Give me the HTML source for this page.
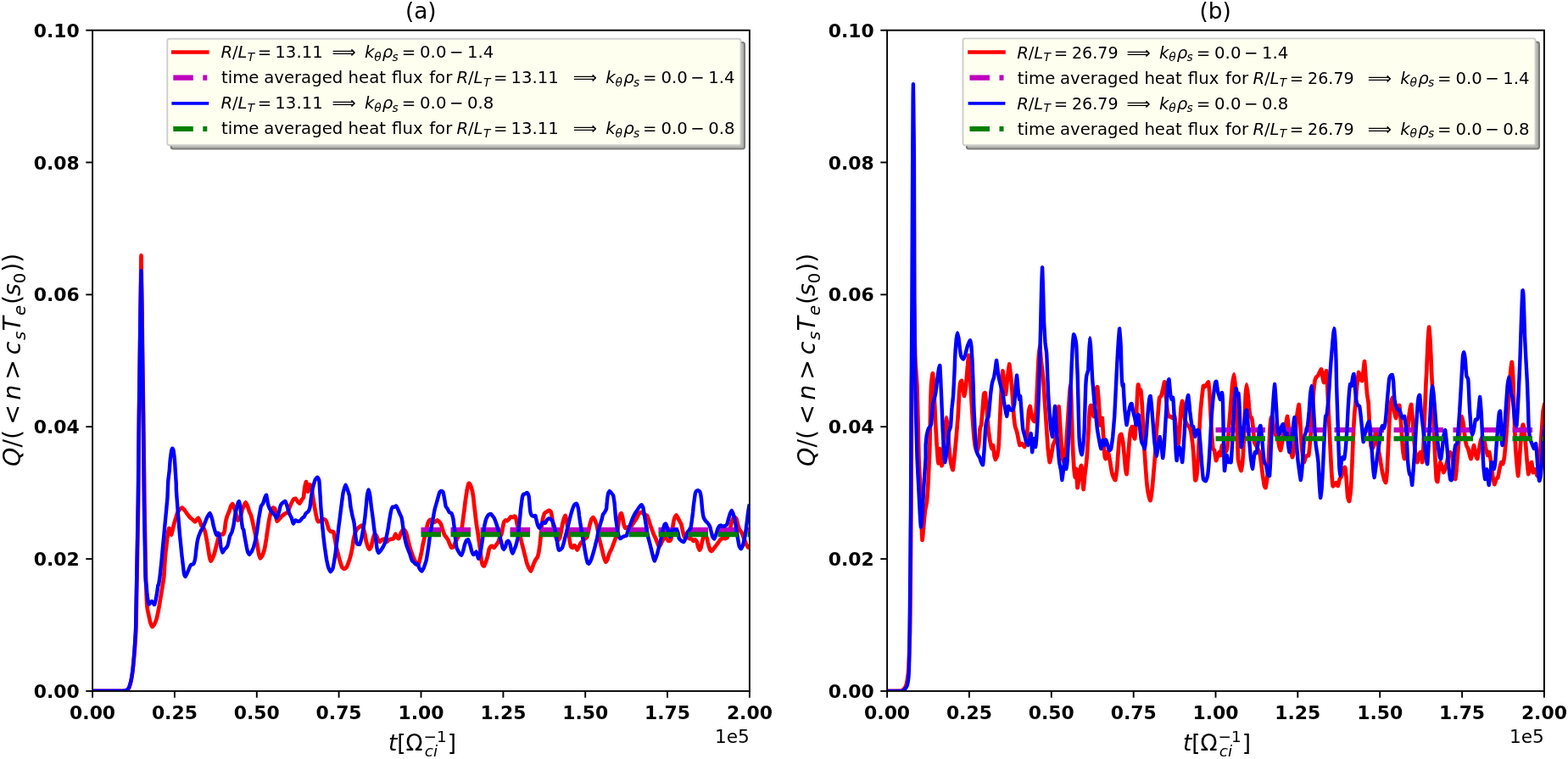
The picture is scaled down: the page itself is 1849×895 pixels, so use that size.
<!DOCTYPE html>
<html lang="en">
<head>
<meta charset="utf-8">
<title>Heat flux time traces</title>
<style>
html, body { margin: 0; padding: 0; background: #ffffff; }
body { width: 1849px; height: 895px; overflow: hidden; }
svg { display: block; font-family: "DejaVu Sans", "Liberation Sans", sans-serif; }
text { fill: #000; white-space: pre; }
</style>
</head>
<body>
<svg width="1849" height="895" viewBox="0 0 1849 895">
<rect x="0" y="0" width="1849" height="895" fill="#ffffff"/>
<g id="plot-a">
<clipPath id="clip-a"><rect x="109.1" y="35.7" width="774.8" height="779.2"/></clipPath>
<g clip-path="url(#clip-a)" fill="none" stroke-linejoin="round" stroke-linecap="butt">
<path d="M109.0 814.8C111.1 814.8 137.5 814.8 140.0 814.8C142.5 814.8 145.3 814.7 146.0 814.6C146.7 814.5 149.4 813.9 149.8 813.6C150.2 813.3 151.9 811.6 152.2 810.8C152.5 810.0 154.4 803.4 154.7 802.0C155.0 800.6 156.4 791.3 156.6 789.6C156.8 787.9 157.6 778.6 157.8 777.0C158.0 775.4 158.8 766.7 158.9 765.0C159.0 763.3 159.7 753.7 159.8 752.0C159.9 750.3 160.3 744.8 160.4 740.0C160.5 735.2 161.3 690.0 161.5 680.0C161.7 670.0 162.9 602.7 163.1 590.0C163.3 577.3 163.9 504.0 164.1 490.0C164.3 476.0 165.4 390.7 165.5 380.0C165.6 369.3 166.0 335.3 166.1 330.0C166.2 324.7 166.4 301.0 166.5 301.0C166.6 301.0 166.8 324.7 166.9 330.0C167.0 335.3 167.5 369.3 167.6 380.0C167.7 390.7 168.9 476.0 169.1 490.0C169.3 504.0 170.2 577.3 170.4 590.0C170.6 602.7 171.8 671.7 172.0 680.0C172.2 688.3 173.2 711.8 173.4 714.8C173.6 717.8 175.0 723.5 175.2 724.8C175.5 726.0 176.8 732.5 177.1 733.5C177.4 734.4 179.3 738.9 179.6 739.1C179.9 739.2 181.8 736.6 182.1 736.0C182.4 735.3 184.2 731.2 184.6 729.8C185.0 728.3 187.3 717.1 187.7 714.8C188.1 712.6 190.4 698.5 190.8 696.2C191.2 693.8 193.0 682.4 193.3 680.0C193.5 677.6 194.3 663.4 194.5 660.9C194.7 658.3 196.1 644.4 196.4 642.2C196.6 640.0 198.1 628.5 198.3 627.3C198.5 626.0 199.3 622.7 199.5 622.9C199.7 623.2 201.7 631.0 202.0 631.0C202.3 631.0 203.6 624.5 203.9 623.5C204.1 622.5 205.5 617.0 205.7 616.1C206.0 615.2 207.3 610.6 207.6 609.9C207.8 609.1 209.2 604.9 209.4 604.2C209.7 603.6 211.6 600.9 211.9 600.5C212.3 600.1 214.6 598.5 215.1 598.7C215.5 598.8 217.7 601.9 218.2 602.4C218.6 602.9 220.9 606.2 221.3 606.7C221.7 607.3 224.0 610.1 224.4 610.5C224.8 610.9 227.1 612.6 227.5 613.0C227.9 613.3 229.7 615.5 230.0 615.5C230.3 615.5 231.6 613.3 231.8 613.0C232.1 612.6 233.5 610.4 233.7 610.5C234.0 610.6 235.3 613.6 235.6 614.2C235.8 614.8 237.1 619.2 237.4 619.8C237.8 620.4 240.2 622.9 240.6 623.5C240.9 624.2 242.2 628.7 242.4 629.8C242.7 630.8 244.0 638.3 244.3 639.7C244.5 641.1 245.9 649.7 246.1 650.9C246.3 652.1 247.2 657.7 247.4 658.4C247.6 659.1 248.4 661.6 248.6 661.5C248.9 661.4 250.8 657.9 251.1 657.1C251.5 656.3 253.3 650.8 253.6 649.6C253.9 648.5 255.8 640.9 256.1 639.7C256.4 638.5 257.7 632.9 258.0 632.2C258.3 631.6 260.1 629.9 260.4 629.8C260.8 629.6 262.6 630.6 262.9 630.4C263.2 630.1 264.6 627.0 264.8 626.0C265.0 625.1 265.8 617.2 266.0 616.1C266.2 614.9 267.6 609.5 267.9 608.6C268.2 607.7 270.1 603.2 270.4 602.4C270.7 601.6 272.0 597.3 272.3 596.8C272.5 596.3 273.8 594.1 274.1 594.3C274.4 594.5 276.3 598.9 276.6 599.9C277.0 600.9 278.9 608.9 279.1 609.9C279.3 610.8 280.1 613.5 280.4 613.6C280.6 613.7 282.5 611.7 282.8 611.1C283.1 610.5 284.5 605.7 284.7 604.9C284.9 604.1 286.2 599.5 286.6 598.7C286.9 597.8 289.3 592.5 289.7 592.4C290.1 592.4 291.9 596.7 292.2 597.4C292.5 598.2 293.8 603.0 294.0 603.6C294.3 604.3 295.7 606.6 295.9 607.4C296.1 608.1 297.5 613.8 297.8 614.8C298.0 615.9 299.4 622.4 299.6 623.5C299.9 624.7 301.2 631.0 301.5 632.2C301.7 633.5 303.1 640.8 303.4 642.2C303.6 643.6 305.0 652.3 305.2 653.4C305.5 654.5 306.8 658.3 307.1 658.4C307.4 658.4 309.3 655.4 309.6 654.6C309.9 653.9 311.7 648.5 312.0 647.2C312.3 645.9 313.8 636.8 314.1 635.1C314.3 633.4 315.8 623.3 316.1 621.5C316.3 619.8 317.8 610.7 318.1 609.4C318.4 608.0 319.9 602.0 320.1 601.3C320.4 600.5 321.9 598.7 322.2 598.6C322.4 598.5 324.0 599.2 324.2 599.9C324.4 600.6 325.4 608.4 325.6 609.4C325.7 610.4 326.6 614.7 326.9 614.8C327.2 614.9 329.9 611.2 330.3 610.7C330.7 610.3 332.6 608.3 333.0 608.0C333.4 607.7 335.3 606.3 335.7 606.0C336.1 605.7 338.6 604.6 339.1 604.0C339.5 603.3 342.0 596.9 342.4 595.9C342.9 594.9 345.4 589.6 345.8 589.1C346.2 588.6 348.2 587.6 348.5 587.8C348.9 587.9 350.9 591.4 351.2 591.8C351.6 592.2 353.0 594.0 353.3 593.8C353.6 593.7 355.7 589.6 356.0 589.1C356.3 588.6 357.8 587.4 358.0 586.4C358.2 585.4 359.1 575.4 359.4 574.2C359.6 573.0 360.9 567.8 361.1 568.1C361.4 568.5 362.8 579.4 363.0 579.6C363.2 579.9 364.5 572.0 364.8 571.5C365.0 571.1 366.5 572.0 366.8 572.9C367.1 573.8 368.6 583.4 368.8 585.0C369.1 586.7 370.6 595.7 370.8 597.2C371.1 598.7 372.6 606.9 372.9 608.0C373.1 609.2 374.6 614.3 374.9 614.8C375.2 615.2 377.2 615.0 377.6 614.8C378.0 614.6 379.9 612.2 380.3 612.1C380.7 611.9 383.3 612.4 383.7 612.8C384.1 613.1 385.5 616.7 385.7 617.5C386.0 618.3 387.4 623.6 387.7 624.2C388.1 624.9 390.1 626.8 390.4 627.0C390.8 627.1 392.9 626.5 393.1 627.0C393.4 627.4 394.3 632.5 394.5 633.7C394.7 634.9 396.3 643.3 396.5 644.5C396.8 645.8 398.3 651.6 398.6 652.6C398.8 653.7 400.3 659.7 400.6 660.8C400.9 661.8 402.9 668.2 403.3 668.9C403.7 669.5 405.6 670.9 406.0 670.9C406.4 670.9 408.3 669.5 408.7 668.9C409.1 668.3 411.1 663.0 411.4 662.1C411.7 661.2 413.2 656.4 413.4 655.4C413.7 654.3 415.2 647.2 415.5 645.9C415.7 644.6 416.6 637.6 416.8 636.4C417.0 635.2 418.6 629.1 418.8 628.3C419.1 627.5 420.6 624.7 420.9 624.2C421.2 623.8 423.2 621.9 423.6 621.5C423.9 621.2 426.0 619.4 426.3 619.5C426.6 619.6 428.0 622.2 428.3 622.9C428.6 623.6 430.1 628.7 430.3 629.7C430.6 630.7 431.5 636.8 431.7 637.8C431.9 638.8 433.5 643.9 433.7 644.5C434.0 645.2 435.5 647.9 435.7 647.9C436.0 647.9 437.5 645.4 437.8 644.5C438.0 643.7 439.5 636.1 439.8 635.1C440.1 634.1 441.6 629.9 441.8 629.7C442.1 629.4 443.6 631.2 443.9 631.7C444.1 632.1 445.6 635.9 445.9 636.4C446.1 636.9 447.6 639.1 447.9 639.1C448.2 639.1 450.3 636.6 450.6 636.4C451.0 636.2 453.0 635.6 453.3 635.7C453.7 635.9 455.7 639.1 456.0 639.1C456.4 639.2 458.4 636.6 458.7 636.4C459.1 636.2 461.1 635.8 461.4 635.7C461.8 635.6 463.8 635.5 464.1 635.1C464.5 634.7 465.9 629.8 466.2 629.7C466.4 629.6 467.9 633.4 468.2 633.7C468.5 634.1 469.9 635.3 470.2 635.1C470.5 634.8 472.0 630.3 472.2 629.7C472.5 629.0 474.0 625.9 474.3 625.6C474.6 625.3 476.7 624.7 477.0 624.9C477.3 625.1 478.7 627.5 479.0 628.3C479.3 629.1 480.8 635.3 481.0 636.4C481.3 637.5 482.8 643.4 483.1 644.5C483.4 645.6 485.4 651.7 485.8 652.6C486.1 653.6 488.1 658.6 488.5 659.4C488.8 660.2 490.9 664.4 491.2 664.8C491.5 665.3 492.9 666.5 493.2 666.2C493.5 665.8 495.0 660.5 495.2 659.4C495.5 658.3 497.0 651.3 497.3 649.9C497.5 648.6 499.0 640.4 499.3 639.1C499.6 637.9 501.0 632.2 501.3 631.0C501.6 629.8 503.1 622.6 503.4 621.5C503.6 620.5 505.1 615.4 505.4 614.8C505.6 614.2 507.1 612.8 507.4 612.8C507.7 612.8 509.7 614.6 510.1 614.8C510.5 615.0 512.4 615.6 512.8 615.5C513.2 615.4 515.2 613.4 515.5 613.4C515.9 613.4 517.9 615.1 518.2 615.5C518.5 615.8 520.0 618.2 520.2 618.8C520.5 619.5 522.0 624.8 522.3 625.6C522.6 626.4 524.0 630.5 524.3 631.0C524.6 631.6 526.1 633.4 526.3 633.7C526.6 634.1 528.1 635.9 528.4 636.4C528.6 637.0 530.1 641.2 530.4 641.8C530.7 642.5 532.1 645.7 532.4 645.9C532.7 646.1 534.8 645.0 535.1 644.5C535.4 644.1 536.8 639.8 537.1 639.1C537.5 638.4 539.5 634.4 539.9 633.7C540.2 633.0 542.2 629.0 542.6 628.3C542.9 627.6 544.3 624.3 544.6 622.9C544.9 621.5 546.3 610.1 546.6 608.0C546.9 606.0 548.4 593.8 548.6 591.8C548.9 589.8 550.4 579.7 550.7 578.3C550.9 576.8 552.5 570.7 552.7 570.2C552.9 569.6 553.3 569.9 553.5 570.2C553.7 570.4 555.3 573.4 555.5 574.2C555.8 575.0 557.4 581.1 557.6 582.3C557.8 583.6 558.8 591.6 558.9 593.1C559.1 594.7 560.1 603.8 560.3 605.3C560.5 606.9 561.4 614.7 561.6 616.1C561.8 617.6 563.0 625.4 563.3 627.0C563.5 628.5 564.8 637.6 565.0 639.1C565.2 640.7 566.2 648.5 566.4 649.9C566.6 651.4 567.5 659.7 567.7 660.8C567.9 661.8 568.9 665.7 569.1 666.2C569.3 666.6 570.6 667.8 570.8 667.5C571.1 667.2 572.8 662.9 573.1 662.1C573.4 661.3 574.9 656.3 575.1 655.4C575.4 654.4 576.6 648.0 576.8 647.2C577.0 646.5 578.3 644.8 578.5 644.5C578.8 644.3 580.3 643.8 580.6 643.9C580.8 644.0 582.3 645.9 582.6 645.9C582.9 645.8 584.3 643.5 584.6 643.2C584.9 642.8 586.4 640.8 586.6 640.5C586.9 640.1 587.8 638.2 588.0 637.8C588.2 637.3 589.1 634.3 589.4 633.7C589.6 633.2 591.2 630.4 591.4 629.7C591.6 628.9 592.6 623.8 592.7 622.9C592.9 622.0 593.9 616.8 594.1 616.1C594.3 615.5 595.8 613.6 596.1 613.4C596.4 613.3 597.9 614.2 598.1 614.1C598.4 614.0 599.9 612.4 600.2 612.1C600.4 611.8 601.9 609.5 602.2 609.4C602.5 609.2 604.6 610.1 604.9 610.1C605.2 610.0 606.7 608.7 606.9 608.7C607.2 608.7 608.1 610.1 608.3 610.7C608.5 611.3 609.5 616.7 609.6 617.5C609.8 618.3 610.8 622.0 611.0 622.9C611.2 623.8 612.7 629.9 613.0 631.0C613.3 632.1 614.8 638.0 615.0 639.1C615.3 640.2 616.8 646.2 617.1 647.2C617.3 648.3 618.8 654.3 619.1 655.4C619.4 656.4 620.9 662.6 621.1 663.5C621.4 664.4 622.8 668.2 623.1 668.9C623.5 669.5 625.5 673.6 625.9 673.6C626.2 673.6 627.6 669.5 627.9 668.9C628.2 668.2 629.6 664.1 629.9 663.5C630.2 662.8 631.7 659.9 631.9 659.4C632.2 659.0 633.7 657.2 634.0 656.7C634.2 656.2 635.1 652.3 635.3 651.3C635.5 650.3 636.5 643.1 636.7 641.8C636.8 640.6 637.5 633.7 637.6 632.4C637.8 631.0 638.5 622.9 638.7 621.5C638.9 620.2 639.8 613.2 640.0 612.1C640.3 611.0 641.8 605.9 642.1 605.3C642.4 604.7 644.4 603.5 644.8 603.3C645.2 603.1 647.2 601.9 647.5 601.9C647.8 601.9 649.3 602.8 649.5 603.3C649.7 603.8 650.7 608.4 650.9 609.4C651.0 610.3 652.0 616.4 652.2 617.5C652.4 618.6 653.3 624.5 653.6 625.6C653.8 626.7 655.3 632.9 655.6 633.7C655.9 634.5 657.3 637.8 657.6 637.8C657.9 637.8 660.0 634.7 660.3 633.7C660.7 632.7 662.1 624.3 662.4 622.9C662.6 621.5 664.1 614.4 664.4 613.4C664.7 612.4 666.2 608.1 666.4 608.0C666.6 607.9 667.6 611.3 667.8 612.1C667.9 612.9 668.9 619.0 669.1 620.2C669.3 621.4 670.3 628.5 670.5 629.7C670.7 630.8 671.7 636.8 671.8 637.8C672.0 638.8 673.0 644.0 673.2 644.5C673.4 645.1 674.9 646.0 675.2 645.9C675.5 645.8 677.0 643.3 677.2 643.2C677.5 643.1 678.4 644.2 678.6 644.5C678.8 644.9 680.4 648.6 680.6 648.6C680.9 648.6 682.4 645.1 682.6 644.5C682.9 644.0 684.4 640.9 684.7 640.5C685.0 640.0 687.0 638.1 687.4 637.8C687.7 637.4 689.8 635.3 690.1 635.1C690.4 634.8 691.9 634.2 692.1 633.7C692.3 633.3 693.2 629.3 693.5 628.3C693.7 627.3 695.2 619.9 695.5 618.8C695.8 617.8 697.2 612.7 697.5 612.1C697.8 611.5 699.3 610.0 699.5 610.1C699.8 610.2 701.3 612.9 701.6 613.4C701.8 614.0 703.4 618.0 703.6 618.8C703.8 619.7 704.8 624.6 705.0 625.6C705.1 626.6 706.1 632.6 706.3 633.7C706.5 634.8 708.1 640.7 708.3 641.8C708.6 642.9 710.1 648.9 710.4 649.9C710.6 651.0 712.1 657.2 712.4 658.0C712.7 658.9 714.1 662.7 714.4 662.8C714.7 662.9 716.2 660.1 716.5 659.4C716.7 658.7 718.2 653.5 718.5 652.6C718.8 651.8 720.9 648.0 721.2 647.2C721.5 646.5 722.9 642.6 723.2 641.8C723.5 641.1 725.0 637.1 725.2 636.4C725.5 635.7 727.0 631.9 727.3 631.0C727.5 630.1 728.4 624.2 728.6 622.9C728.8 621.6 729.8 613.2 730.0 612.1C730.1 611.0 731.1 607.1 731.3 606.7C731.5 606.2 732.5 605.1 732.7 605.3C732.8 605.5 733.8 608.6 734.0 609.4C734.2 610.2 735.2 616.6 735.4 617.5C735.6 618.4 737.1 622.6 737.4 622.9C737.7 623.2 739.1 621.5 739.4 621.5C739.8 621.5 742.4 623.1 742.8 622.9C743.2 622.7 745.2 619.4 745.5 618.8C745.9 618.3 747.9 615.3 748.2 614.8C748.6 614.2 750.6 611.4 750.9 610.7C751.3 610.1 753.3 605.8 753.6 605.3C754.0 604.9 755.9 603.9 756.3 604.0C756.8 604.1 759.9 606.4 760.4 606.7C760.8 606.9 762.8 607.6 763.1 608.0C763.4 608.5 764.8 612.6 765.1 613.4C765.4 614.3 766.9 619.4 767.1 620.2C767.4 621.0 768.9 624.9 769.2 625.6C769.5 626.3 770.9 630.4 771.2 631.0C771.5 631.6 773.0 634.4 773.2 635.1C773.5 635.7 775.0 639.8 775.3 640.5C775.5 641.1 777.0 644.4 777.3 644.5C777.6 644.6 778.9 642.4 779.2 641.8C779.5 641.3 781.6 637.0 781.9 636.4C782.2 635.9 783.7 633.8 783.9 633.7C784.2 633.6 785.7 634.8 786.0 635.1C786.2 635.3 787.7 637.6 788.0 637.8C788.3 637.9 789.8 637.9 790.0 637.8C790.3 637.6 791.2 635.9 791.4 635.1C791.6 634.3 792.6 626.9 792.7 625.6C792.9 624.3 793.9 617.1 794.1 616.1C794.3 615.1 795.2 611.3 795.4 610.7C795.7 610.1 797.2 607.4 797.5 607.4C797.7 607.4 799.2 610.2 799.5 610.7C799.8 611.2 801.2 614.2 801.5 614.8C801.8 615.3 803.3 618.1 803.5 618.8C803.8 619.6 804.7 624.8 804.9 625.6C805.1 626.4 806.1 630.5 806.2 631.0C806.4 631.6 807.3 633.5 807.6 633.7C807.9 633.9 809.9 633.6 810.3 633.7C810.7 633.8 812.6 634.9 813.0 635.1C813.4 635.2 815.4 635.6 815.7 635.7C816.0 635.9 817.5 637.7 817.7 637.8C818.0 637.8 819.5 636.3 819.8 636.4C820.0 636.5 821.6 638.6 821.8 639.1C822.0 639.7 822.9 643.9 823.1 644.5C823.4 645.2 824.7 648.5 824.9 648.6C825.1 648.7 826.3 646.5 826.5 645.9C826.7 645.3 827.7 639.9 827.9 639.1C828.1 638.3 829.0 634.3 829.2 633.7C829.5 633.2 831.0 631.0 831.3 631.0C831.5 631.0 833.1 633.2 833.3 633.7C833.5 634.3 834.5 638.4 834.6 639.1C834.8 639.8 835.8 643.9 836.0 644.5C836.2 645.2 837.1 648.2 837.4 648.6C837.6 649.0 839.1 650.0 839.4 649.9C839.7 649.9 841.1 647.6 841.4 647.2C841.7 646.9 843.2 644.9 843.4 644.5C843.7 644.2 845.2 642.2 845.5 641.8C845.7 641.5 847.2 639.5 847.5 639.1C847.8 638.8 849.2 636.7 849.5 636.4C849.8 636.1 851.3 635.2 851.5 635.1C851.8 634.9 853.3 634.4 853.6 634.4C853.8 634.4 855.3 635.1 855.6 635.1C855.9 635.0 857.3 634.4 857.6 633.7C857.9 633.1 860.0 626.9 860.3 625.6C860.7 624.3 862.7 615.9 863.0 614.8C863.4 613.7 865.4 609.6 865.7 609.4C866.1 609.2 868.2 611.5 868.5 612.1C868.7 612.6 869.6 616.7 869.8 617.5C870.0 618.3 871.6 623.6 871.8 624.2C872.1 624.9 873.6 626.5 873.9 627.0C874.1 627.4 875.6 630.4 875.9 631.0C876.1 631.6 877.6 635.7 877.9 636.4C878.2 637.1 879.7 641.2 879.9 641.8C880.2 642.4 881.7 644.9 882.0 645.2C882.2 645.5 883.6 646.5 883.7 646.6" stroke="#ff0000" stroke-width="4.7"/>
<line x1="496.5" y1="624.9" x2="883.9" y2="624.9" stroke="#bf00bf" stroke-width="6.1" stroke-dasharray="23.5 11.5"/>
<path d="M109.0 814.8C111.1 814.8 137.5 814.8 140.0 814.8C142.5 814.8 145.3 814.7 146.0 814.6C146.7 814.5 149.4 813.9 149.8 813.6C150.2 813.3 151.9 811.6 152.2 810.8C152.5 810.0 154.4 803.4 154.7 802.0C155.0 800.6 156.4 791.3 156.6 789.6C156.8 787.9 157.7 778.6 157.8 777.0C157.9 775.4 158.6 766.7 158.7 765.0C158.8 763.3 159.4 753.7 159.5 752.0C159.6 750.3 160.0 744.8 160.1 740.0C160.2 735.2 161.0 690.0 161.2 680.0C161.4 670.0 162.6 602.7 162.8 590.0C163.0 577.3 163.6 504.0 163.8 490.0C164.0 476.0 165.2 390.0 165.3 380.0C165.4 370.0 165.9 344.0 166.0 340.0C166.1 336.0 166.4 319.3 166.5 319.3C166.6 319.3 166.9 336.0 167.0 340.0C167.1 344.0 167.4 370.0 167.5 380.0C167.6 390.0 168.7 476.0 168.9 490.0C169.1 504.0 169.6 577.3 169.8 590.0C170.0 602.7 171.3 673.2 171.5 680.0C171.7 686.8 172.6 690.8 172.8 692.4C172.9 694.1 173.8 703.5 174.0 704.9C174.2 706.2 175.4 712.2 175.6 712.6C175.8 713.0 177.1 710.7 177.4 710.5C177.6 710.2 178.8 708.8 179.0 708.9C179.2 708.9 180.4 710.8 180.6 711.1C180.8 711.4 181.9 713.2 182.1 713.0C182.3 712.7 183.4 708.3 183.6 707.4C183.8 706.4 185.0 699.8 185.2 698.7C185.4 697.5 186.3 690.6 186.4 690.0C186.6 689.3 186.9 690.1 187.1 689.5C187.2 688.8 188.4 681.2 188.6 679.5C188.8 677.8 189.9 666.9 190.2 664.6C190.4 662.3 191.8 647.3 192.0 644.7C192.3 642.0 193.7 627.4 193.9 624.8C194.2 622.1 195.5 607.4 195.8 604.9C196.0 602.4 197.2 590.0 197.4 587.5C197.6 584.9 198.1 569.2 198.3 567.1C198.4 564.9 199.6 556.5 199.8 554.6C199.9 552.8 200.8 541.3 201.0 539.7C201.2 538.1 202.1 531.7 202.2 531.0C202.4 530.3 203.1 528.8 203.2 528.8C203.4 528.8 204.3 530.3 204.5 531.0C204.6 531.7 205.6 538.1 205.7 539.7C205.9 541.3 206.6 552.6 206.7 554.6C206.9 556.6 207.6 567.9 207.7 569.5C207.8 571.2 207.8 578.1 208.0 580.0C208.1 581.9 209.2 595.3 209.4 598.7C209.7 602.0 211.6 626.0 211.9 629.8C212.3 633.5 214.1 651.6 214.4 654.6C214.8 657.7 216.7 674.1 216.9 675.8C217.2 677.5 218.1 680.2 218.4 680.1C218.7 680.0 220.9 675.4 221.3 674.5C221.7 673.7 224.1 667.6 224.4 667.1C224.7 666.5 225.4 665.9 225.6 665.8C225.9 665.7 227.8 665.6 228.1 665.2C228.4 664.8 229.8 660.6 230.0 659.6C230.2 658.6 231.1 651.0 231.2 649.6C231.4 648.3 232.3 640.9 232.5 639.7C232.7 638.5 234.0 633.2 234.3 632.2C234.6 631.3 236.5 626.7 236.8 626.0C237.2 625.4 239.0 623.0 239.3 622.3C239.6 621.6 241.5 616.9 241.8 616.1C242.1 615.2 243.9 610.6 244.3 609.9C244.7 609.1 247.0 604.8 247.4 604.9C247.8 605.0 249.6 610.1 249.9 611.1C250.2 612.1 251.5 618.6 251.7 619.8C252.0 621.0 254.0 627.8 254.2 628.5C254.5 629.3 255.3 631.0 255.5 631.0C255.7 631.0 257.1 628.3 257.3 628.5C257.6 628.7 259.0 632.4 259.2 633.5C259.4 634.6 260.2 643.5 260.4 644.7C260.7 645.9 262.0 651.3 262.3 651.5C262.6 651.7 264.5 648.2 264.8 647.8C265.1 647.4 267.0 645.8 267.3 645.3C267.6 644.8 268.9 641.8 269.1 641.0C269.4 640.1 270.7 633.2 271.0 632.2C271.3 631.3 273.2 628.1 273.5 627.3C273.8 626.4 275.1 621.1 275.4 619.8C275.6 618.5 277.0 608.8 277.2 607.4C277.5 606.0 278.9 599.7 279.1 598.7C279.3 597.7 280.8 592.9 281.0 592.4C281.2 591.9 281.7 590.8 281.8 591.2C282.0 591.6 283.3 597.2 283.5 598.7C283.7 600.2 284.5 612.0 284.7 613.6C284.9 615.2 285.8 621.5 285.9 622.3C286.1 623.0 287.0 624.1 287.2 624.8C287.4 625.4 288.2 631.1 288.4 632.2C288.6 633.4 290.1 640.9 290.3 642.2C290.5 643.4 291.9 650.1 292.2 650.9C292.4 651.7 293.7 654.1 294.0 654.0C294.4 653.9 296.7 650.5 297.1 649.6C297.6 648.8 299.9 642.4 300.2 641.0C300.6 639.5 302.4 630.5 302.7 628.5C303.1 626.5 304.9 613.2 305.2 611.1C305.6 609.0 307.4 598.6 307.7 597.4C308.0 596.2 309.9 594.3 310.2 593.7C310.5 593.0 311.8 588.1 312.1 587.5C312.3 586.8 313.8 583.2 314.1 583.7C314.3 584.2 315.8 593.4 316.1 594.5C316.3 595.6 317.8 599.3 318.1 599.9C318.4 600.5 320.5 603.5 320.8 604.0C321.2 604.4 323.2 606.2 323.5 606.7C323.9 607.1 325.9 610.9 326.2 610.7C326.6 610.6 328.6 605.0 328.9 604.0C329.2 603.0 330.6 596.6 331.0 595.9C331.3 595.1 333.3 592.8 333.7 592.5C334.0 592.2 336.0 590.7 336.4 591.1C336.7 591.5 338.8 597.6 339.1 598.6C339.4 599.5 340.8 604.5 341.1 605.3C341.4 606.1 343.5 609.9 343.8 610.7C344.1 611.5 345.5 617.3 345.8 617.5C346.1 617.7 348.2 613.6 348.5 613.4C348.9 613.3 350.9 614.7 351.2 614.8C351.6 614.8 353.6 614.4 353.9 614.1C354.3 613.8 356.3 611.0 356.6 610.7C357.0 610.4 358.4 609.7 358.7 609.4C358.9 609.0 360.4 605.7 360.7 605.3C361.0 604.9 363.1 603.7 363.4 603.3C363.7 602.8 365.2 599.6 365.4 598.6C365.7 597.5 366.6 589.3 366.8 587.8C367.0 586.2 368.5 577.0 368.8 575.6C369.1 574.1 371.2 567.0 371.5 566.1C371.9 565.3 373.9 562.7 374.2 562.7C374.5 562.7 376.1 565.1 376.2 566.1C376.4 567.1 377.1 576.6 377.2 578.3C377.3 580.0 377.9 590.0 378.0 591.8C378.1 593.6 378.8 603.5 379.0 605.3C379.1 607.1 379.9 617.0 380.0 618.8C380.2 620.6 381.2 630.6 381.4 632.4C381.6 634.2 382.8 644.1 383.0 645.9C383.3 647.7 384.8 657.9 385.0 659.4C385.3 660.9 386.8 667.9 387.1 668.9C387.4 669.9 389.4 674.2 389.8 674.3C390.1 674.4 392.2 671.2 392.5 670.2C392.8 669.2 394.2 661.1 394.5 659.4C394.8 657.7 396.3 646.6 396.5 644.5C396.8 642.5 398.3 630.5 398.6 628.3C398.8 626.1 400.3 614.2 400.6 612.1C400.9 609.9 402.3 597.9 402.6 595.9C402.9 593.8 404.3 582.6 404.6 581.0C405.0 579.4 407.0 572.1 407.4 571.9C407.7 571.7 409.7 577.4 410.1 578.3C410.4 579.2 411.9 583.8 412.1 585.0C412.3 586.3 413.2 595.7 413.4 597.2C413.7 598.7 415.2 606.8 415.5 608.0C415.7 609.3 417.3 614.8 417.5 616.1C417.7 617.5 418.7 626.8 418.8 628.3C419.0 629.8 420.0 638.2 420.2 639.1C420.4 640.0 421.3 641.6 421.6 641.8C421.8 642.0 423.9 642.3 424.2 641.8C424.6 641.4 426.0 636.2 426.3 635.1C426.6 633.9 428.0 625.9 428.3 624.2C428.6 622.6 430.1 612.5 430.3 610.7C430.6 608.9 431.5 599.0 431.7 597.2C431.9 595.4 432.8 585.0 433.0 583.7C433.2 582.4 434.4 577.5 434.7 577.6C434.9 577.7 436.2 583.7 436.4 585.0C436.6 586.3 437.6 595.6 437.8 597.2C438.0 598.8 439.3 607.7 439.5 609.4C439.8 611.1 440.9 621.1 441.1 622.9C441.4 624.7 442.9 634.7 443.2 636.4C443.4 638.1 444.7 647.6 444.9 648.6C445.2 649.6 446.3 652.0 446.6 652.0C446.8 652.0 448.9 649.1 449.3 648.6C449.6 648.1 451.6 645.3 452.0 644.5C452.3 643.8 454.4 638.9 454.7 637.8C455.0 636.7 456.4 629.8 456.7 628.3C457.0 626.9 458.5 617.8 458.7 616.1C459.0 614.5 460.5 605.2 460.8 604.0C461.0 602.8 462.5 598.3 462.8 597.9C463.1 597.5 464.5 598.0 464.8 597.9C465.1 597.8 466.8 596.3 467.1 596.5C467.4 596.8 469.3 600.6 469.6 601.3C469.8 601.9 471.3 605.4 471.6 606.0C471.8 606.6 473.4 609.9 473.6 610.7C473.8 611.6 474.8 617.6 474.9 618.8C475.1 620.1 476.1 628.3 476.3 629.7C476.5 631.0 478.1 638.0 478.3 639.1C478.6 640.2 480.0 645.0 480.4 645.9C480.7 646.8 482.7 651.7 483.1 652.6C483.4 653.6 485.4 660.0 485.8 660.8C486.1 661.5 488.2 663.1 488.5 663.5C488.8 663.8 490.2 665.4 490.5 665.5C490.8 665.6 492.3 664.5 492.5 664.8C492.8 665.1 494.2 669.6 494.6 670.2C494.9 670.8 496.9 673.7 497.3 673.6C497.6 673.5 499.6 669.7 500.0 668.9C500.3 668.0 502.4 662.1 502.7 660.8C503.0 659.4 504.4 650.4 504.7 648.6C505.0 646.8 506.5 635.5 506.7 633.7C507.0 631.9 508.5 623.1 508.8 621.5C509.0 620.0 510.5 612.2 510.8 610.7C511.0 609.3 512.5 601.3 512.8 599.9C513.1 598.6 515.2 591.7 515.5 590.5C515.9 589.2 517.9 581.8 518.2 581.0C518.5 580.2 520.0 579.0 520.2 579.0C520.5 578.9 522.3 579.6 522.5 580.3C522.8 581.0 524.1 588.0 524.3 589.1C524.5 590.2 525.4 596.5 525.7 597.2C525.9 597.9 527.4 599.5 527.7 599.9C528.0 600.4 529.4 603.6 529.7 604.0C530.0 604.3 532.1 604.8 532.4 605.3C532.7 605.9 534.2 610.9 534.5 612.1C534.7 613.3 535.6 621.3 535.8 622.9C536.0 624.5 537.0 634.9 537.1 636.4C537.3 638.0 538.2 644.8 538.5 645.9C538.8 647.0 541.7 652.1 542.0 652.6C542.4 653.2 543.8 654.9 544.1 654.7C544.3 654.5 545.8 650.8 546.1 649.9C546.4 649.1 547.8 642.7 548.1 641.8C548.4 641.0 549.9 637.5 550.1 637.1C550.4 636.7 551.9 636.1 552.2 636.4C552.4 636.7 553.9 640.9 554.2 641.8C554.5 642.7 556.0 649.1 556.2 649.9C556.5 650.8 558.0 653.8 558.2 654.0C558.5 654.2 560.1 652.9 560.3 652.6C560.5 652.4 561.4 650.4 561.6 650.6C561.8 650.8 562.8 654.8 563.0 655.4C563.2 655.9 564.1 658.9 564.3 658.7C564.6 658.6 566.1 653.6 566.4 652.6C566.6 651.7 567.5 645.7 567.7 644.5C567.9 643.4 568.9 636.3 569.1 635.1C569.2 633.8 570.2 626.8 570.4 625.6C570.6 624.4 571.5 618.5 571.8 617.5C572.0 616.5 573.5 611.4 573.8 610.7C574.1 610.1 575.5 607.7 575.8 607.4C576.1 607.0 578.2 605.9 578.5 606.0C578.9 606.1 580.9 608.3 581.2 608.7C581.6 609.1 583.0 611.5 583.3 612.1C583.5 612.7 585.0 616.7 585.3 617.5C585.6 618.3 587.0 623.3 587.3 624.2C587.6 625.2 589.1 631.3 589.4 632.4C589.6 633.4 591.2 639.6 591.4 640.5C591.6 641.4 592.6 645.4 592.7 645.9C592.9 646.4 593.9 648.0 594.1 647.9C594.3 647.8 595.9 645.1 596.1 644.5C596.3 643.9 597.2 639.6 597.5 639.1C597.7 638.7 599.2 637.6 599.5 637.8C599.8 638.0 601.3 641.1 601.5 641.8C601.7 642.6 602.7 647.9 602.9 648.6C603.1 649.3 604.4 652.6 604.6 652.6C604.9 652.6 606.0 649.2 606.2 648.6C606.5 648.0 608.0 644.1 608.3 643.2C608.6 642.3 610.1 636.3 610.3 635.1C610.5 633.8 611.5 625.8 611.7 624.2C611.8 622.7 612.8 613.7 613.0 612.1C613.2 610.5 613.9 601.4 614.1 599.9C614.3 598.4 615.3 590.2 615.5 589.1C615.6 588.0 616.8 583.5 617.1 583.0C617.3 582.6 618.8 582.5 619.1 582.3C619.4 582.2 621.5 580.8 621.8 581.0C622.1 581.2 623.4 584.1 623.6 585.0C623.7 585.9 624.4 593.2 624.5 594.5C624.6 595.8 625.3 603.1 625.5 604.0C625.6 604.9 627.0 607.7 627.2 608.0C627.5 608.3 629.0 608.7 629.2 608.7C629.5 608.7 631.0 607.7 631.3 608.0C631.5 608.3 632.4 612.7 632.6 613.4C632.8 614.2 633.7 618.2 634.0 618.8C634.2 619.5 635.7 622.9 636.0 622.9C636.3 622.9 637.8 619.3 638.0 618.8C638.3 618.4 639.7 616.3 640.0 616.1C640.4 616.0 642.4 617.0 642.8 616.8C643.1 616.6 644.5 613.8 644.8 613.4C645.1 613.1 646.5 611.5 646.8 611.4C647.1 611.3 649.2 611.9 649.5 612.1C649.8 612.3 651.3 614.2 651.5 614.8C651.8 615.3 653.3 619.4 653.6 620.2C653.8 621.0 654.7 626.0 654.9 627.0C655.1 628.0 656.1 634.0 656.3 635.1C656.5 636.2 657.5 642.3 657.6 643.2C657.8 644.1 658.8 648.3 659.0 648.6C659.2 648.9 660.7 648.1 661.0 647.9C661.3 647.7 662.8 646.5 663.0 645.9C663.3 645.3 664.8 640.1 665.1 639.1C665.3 638.1 666.8 632.1 667.1 631.0C667.4 629.9 668.9 624.0 669.1 622.9C669.4 621.8 670.9 615.9 671.1 614.8C671.4 613.7 672.9 607.7 673.2 606.7C673.5 605.7 674.9 600.7 675.2 599.9C675.5 599.1 676.9 595.6 677.2 595.2C677.6 594.8 679.6 593.6 679.9 593.8C680.2 594.1 681.5 597.6 681.7 598.6C681.9 599.5 682.9 606.8 683.0 608.0C683.2 609.3 684.2 616.2 684.4 617.5C684.6 618.8 685.8 625.8 686.0 627.0C686.2 628.1 687.2 634.0 687.4 635.1C687.6 636.2 688.6 642.1 688.7 643.2C688.9 644.3 689.9 650.3 690.1 651.3C690.3 652.3 691.2 657.2 691.4 658.0C691.6 658.9 692.6 663.0 692.8 663.5C693.0 663.9 693.9 664.9 694.1 664.8C694.4 664.7 695.9 662.7 696.2 662.1C696.4 661.6 697.9 657.5 698.2 656.7C698.5 655.9 699.9 650.9 700.2 649.9C700.5 648.9 702.0 642.9 702.2 641.8C702.5 640.7 704.1 634.8 704.3 633.7C704.5 632.6 705.4 626.6 705.6 625.6C705.9 624.6 707.4 619.7 707.7 618.8C707.9 617.9 709.5 612.9 709.7 612.1C709.9 611.3 710.8 607.2 711.0 606.7C711.3 606.1 712.8 604.4 713.1 604.0C713.3 603.5 714.9 600.7 715.1 599.9C715.3 599.1 715.6 593.0 715.8 591.8C715.9 590.6 716.9 583.2 717.1 582.3C717.3 581.5 718.5 579.0 718.8 579.0C719.0 578.9 720.9 581.3 721.2 581.7C721.5 582.0 723.0 583.6 723.2 584.4C723.4 585.1 724.4 591.8 724.6 593.1C724.7 594.5 725.4 602.5 725.5 604.0C725.6 605.4 726.4 613.4 726.6 614.8C726.8 616.1 727.8 623.2 727.9 624.2C728.1 625.3 729.1 630.3 729.3 631.0C729.5 631.7 731.0 634.9 731.3 635.1C731.6 635.3 733.0 633.9 733.4 633.7C733.7 633.5 735.7 632.5 736.0 632.4C736.4 632.2 738.5 632.1 738.8 631.7C739.0 631.3 739.9 627.6 740.1 627.0C740.3 626.3 741.9 622.3 742.1 621.5C742.4 620.8 743.9 616.9 744.2 616.1C744.4 615.4 745.9 611.5 746.2 610.7C746.5 610.0 748.5 606.0 748.9 605.3C749.3 604.7 751.2 601.8 751.6 601.3C752.0 600.7 754.0 597.6 754.3 597.2C754.6 596.8 756.1 595.1 756.3 595.2C756.6 595.3 758.1 597.8 758.4 598.6C758.6 599.3 759.5 605.6 759.7 606.7C759.9 607.8 760.9 613.7 761.1 614.8C761.3 615.9 762.2 621.8 762.4 622.9C762.6 624.0 763.5 629.9 763.8 631.0C764.0 632.1 765.5 638.0 765.8 639.1C766.1 640.2 767.6 646.2 767.8 647.2C768.1 648.3 769.6 654.4 769.9 655.4C770.1 656.3 771.5 661.3 771.8 661.4C772.0 661.5 773.5 657.5 773.8 656.7C774.1 655.9 775.6 650.9 775.8 649.9C776.1 648.9 777.6 642.9 777.9 641.8C778.1 640.7 779.6 634.9 779.9 633.7C780.2 632.5 781.7 625.2 781.9 624.2C782.2 623.3 783.3 619.3 783.5 618.8C783.7 618.4 784.8 617.3 785.0 617.5C785.2 617.7 786.4 620.8 786.6 621.5C786.9 622.3 788.2 627.5 788.4 628.3C788.6 629.1 789.8 632.9 790.0 633.0C790.2 633.1 791.2 630.2 791.4 629.7C791.6 629.1 792.5 625.3 792.7 624.9C793.0 624.6 795.1 624.3 795.4 624.2C795.8 624.2 797.9 624.2 798.1 624.5C798.4 624.8 799.3 627.6 799.5 628.3C799.7 629.0 800.6 634.4 800.8 635.1C801.1 635.7 803.2 637.5 803.5 637.8C803.9 638.0 805.9 639.3 806.2 639.1C806.6 638.9 808.0 635.8 808.3 635.1C808.6 634.3 810.0 628.9 810.3 628.3C810.6 627.7 812.1 626.0 812.3 625.6C812.6 625.2 814.1 623.6 814.4 622.9C814.6 622.2 815.5 616.1 815.7 614.8C815.9 613.5 816.9 605.5 817.1 604.0C817.2 602.4 818.2 593.2 818.4 591.8C818.6 590.4 819.6 583.2 819.8 582.3C819.9 581.5 820.9 579.2 821.1 579.0C821.3 578.7 822.9 578.2 823.1 578.3C823.4 578.3 825.0 579.2 825.2 579.6C825.4 580.1 826.4 584.0 826.5 585.0C826.7 586.0 827.5 593.2 827.6 594.5C827.7 595.8 828.4 602.9 828.6 604.0C828.7 605.1 829.7 610.1 829.9 610.7C830.1 611.4 831.7 613.7 831.9 614.1C832.2 614.5 833.7 615.8 834.0 616.1C834.2 616.5 835.8 618.5 836.0 618.8C836.2 619.2 837.2 621.0 837.4 621.5C837.5 622.1 838.5 626.2 838.7 627.0C838.9 627.7 839.8 631.8 840.0 632.4C840.3 632.9 841.8 635.8 842.1 635.7C842.4 635.6 843.8 631.8 844.1 631.0C844.4 630.2 845.9 625.0 846.1 624.2C846.4 623.5 847.9 620.5 848.2 620.2C848.4 619.9 849.9 619.5 850.2 619.5C850.5 619.6 851.9 620.8 852.2 620.9C852.5 620.9 854.0 620.3 854.2 620.2C854.5 620.1 856.1 619.7 856.3 619.5C856.5 619.3 857.5 618.0 857.6 617.5C857.8 617.0 858.8 612.9 859.0 612.1C859.2 611.3 860.8 606.0 861.0 605.3C861.3 604.6 862.5 601.9 862.8 601.9C863.0 601.9 864.1 604.6 864.4 605.3C864.6 606.0 866.2 611.1 866.4 612.1C866.6 613.1 867.6 619.0 867.8 620.2C867.9 621.4 868.9 628.5 869.1 629.7C869.3 630.8 870.3 636.8 870.5 637.8C870.7 638.8 871.6 643.9 871.8 644.5C872.1 645.2 873.6 647.3 873.9 647.2C874.1 647.1 875.6 644.0 875.9 643.2C876.1 642.4 877.7 636.2 877.9 635.1C878.2 633.9 879.3 627.0 879.5 625.6C879.7 624.2 880.7 616.1 880.9 614.8C881.1 613.4 881.8 606.7 882.0 605.3C882.2 604.0 883.6 595.2 883.7 594.5" stroke="#0000ff" stroke-width="4.4"/>
<line x1="496.5" y1="630.2" x2="883.9" y2="630.2" stroke="#008000" stroke-width="6.1" stroke-dasharray="23.5 11.5"/>
</g>
<rect x="109.1" y="35.7" width="774.8" height="779.2" fill="none" stroke="#000" stroke-width="1.9"/>
<line x1="109.1" y1="814.9" x2="109.1" y2="822.6999999999999" stroke="#000" stroke-width="1.9"/>
<text x="109.1" y="847.8" text-anchor="middle" font-size="21.9" font-weight="bold">0.00</text>
<line x1="205.9" y1="814.9" x2="205.9" y2="822.6999999999999" stroke="#000" stroke-width="1.9"/>
<text x="205.9" y="847.8" text-anchor="middle" font-size="21.9" font-weight="bold">0.25</text>
<line x1="302.8" y1="814.9" x2="302.8" y2="822.6999999999999" stroke="#000" stroke-width="1.9"/>
<text x="302.8" y="847.8" text-anchor="middle" font-size="21.9" font-weight="bold">0.50</text>
<line x1="399.6" y1="814.9" x2="399.6" y2="822.6999999999999" stroke="#000" stroke-width="1.9"/>
<text x="399.6" y="847.8" text-anchor="middle" font-size="21.9" font-weight="bold">0.75</text>
<line x1="496.5" y1="814.9" x2="496.5" y2="822.6999999999999" stroke="#000" stroke-width="1.9"/>
<text x="496.5" y="847.8" text-anchor="middle" font-size="21.9" font-weight="bold">1.00</text>
<line x1="593.4" y1="814.9" x2="593.4" y2="822.6999999999999" stroke="#000" stroke-width="1.9"/>
<text x="593.4" y="847.8" text-anchor="middle" font-size="21.9" font-weight="bold">1.25</text>
<line x1="690.2" y1="814.9" x2="690.2" y2="822.6999999999999" stroke="#000" stroke-width="1.9"/>
<text x="690.2" y="847.8" text-anchor="middle" font-size="21.9" font-weight="bold">1.50</text>
<line x1="787.0" y1="814.9" x2="787.0" y2="822.6999999999999" stroke="#000" stroke-width="1.9"/>
<text x="787.0" y="847.8" text-anchor="middle" font-size="21.9" font-weight="bold">1.75</text>
<line x1="883.9" y1="814.9" x2="883.9" y2="822.6999999999999" stroke="#000" stroke-width="1.9"/>
<text x="883.9" y="847.8" text-anchor="middle" font-size="21.9" font-weight="bold">2.00</text>
<line x1="101.3" y1="814.9" x2="109.1" y2="814.9" stroke="#000" stroke-width="1.9"/>
<text x="93.8" y="822.9" text-anchor="end" font-size="21.9" font-weight="bold">0.00</text>
<line x1="101.3" y1="659.1" x2="109.1" y2="659.1" stroke="#000" stroke-width="1.9"/>
<text x="93.8" y="667.1" text-anchor="end" font-size="21.9" font-weight="bold">0.02</text>
<line x1="101.3" y1="503.2" x2="109.1" y2="503.2" stroke="#000" stroke-width="1.9"/>
<text x="93.8" y="511.2" text-anchor="end" font-size="21.9" font-weight="bold">0.04</text>
<line x1="101.3" y1="347.4" x2="109.1" y2="347.4" stroke="#000" stroke-width="1.9"/>
<text x="93.8" y="355.4" text-anchor="end" font-size="21.9" font-weight="bold">0.06</text>
<line x1="101.3" y1="191.5" x2="109.1" y2="191.5" stroke="#000" stroke-width="1.9"/>
<text x="93.8" y="199.5" text-anchor="end" font-size="21.9" font-weight="bold">0.08</text>
<line x1="101.3" y1="35.7" x2="109.1" y2="35.7" stroke="#000" stroke-width="1.9"/>
<text x="93.8" y="43.7" text-anchor="end" font-size="21.9" font-weight="bold">0.10</text>
<text x="883.9" y="875.9" text-anchor="end" font-size="21.7">1e5</text>
<text x="496.2" y="22.1" text-anchor="middle" font-size="26.3">(a)</text>
<text x="458.0" y="884.9" font-size="26.3"><tspan font-style="italic">t</tspan>[&#937;<tspan font-size="18.4" dy="-10.4" dx="0.8">&#8722;1</tspan><tspan font-size="18.4" dy="17.9" dx="-25.8" font-style="italic">ci</tspan><tspan dy="-7.5" dx="11.6">]</tspan></text>
<text transform="translate(23.9 552.4) rotate(-90)" font-size="28.3"><tspan x="2.50" y="0" font-style="italic">Q</tspan><tspan x="24.80" y="0">/</tspan><tspan x="34.50" y="0">(</tspan><tspan x="51.60" y="0">&lt;</tspan><tspan x="80.70" y="0" font-style="italic">n</tspan><tspan x="104.70" y="0">&gt;</tspan><tspan x="134.15" y="0" font-style="italic">c</tspan><tspan x="151.30" y="5.6" font-size="19.8" font-style="italic">s</tspan><tspan x="161.85" y="0" font-style="italic">T</tspan><tspan x="180.50" y="5.6" font-size="19.8" font-style="italic">e</tspan><tspan x="193.30" y="0">(</tspan><tspan x="203.30" y="0" font-style="italic">s</tspan><tspan x="218.05" y="5.6" font-size="19.8">0</tspan><tspan x="231.60" y="0">))</tspan></text>
<rect x="201.75" y="50.00" width="676.2" height="125.5" rx="2.5" ry="2.5" fill="#b6b6b0" stroke="#7c7c7a" stroke-width="2.2"/>
<rect x="197.3" y="45.7" width="676.2" height="125.5" rx="2.5" ry="2.5" fill="#fffff0" stroke="#cdcdcd" stroke-width="1.9"/>
<line x1="202.0" y1="61.5" x2="246.6" y2="61.5" stroke="#ff0000" stroke-width="4.7"/>
<line x1="204.3" y1="91.6" x2="244.3" y2="91.6" stroke="#bf00bf" stroke-width="6.1" stroke-dasharray="23.5 11.5"/>
<line x1="202.4" y1="121.8" x2="246.2" y2="121.8" stroke="#0000ff" stroke-width="3.8"/>
<line x1="204.3" y1="152.0" x2="244.3" y2="152.0" stroke="#008000" stroke-width="6.1" stroke-dasharray="23.5 11.5"/>
<text font-size="19.7"><tspan x="260.45" y="68.30" font-style="italic">R</tspan><tspan x="273.95" y="68.30">/</tspan><tspan x="280.45" y="68.30" font-style="italic">L</tspan><tspan x="291.75" y="71.60" font-size="13.8" font-style="italic">T</tspan><tspan x="303.85" y="68.30">=</tspan><tspan x="324.35" y="68.30">13.11</tspan><tspan x="391.45" y="68.30">&#10233;</tspan><tspan x="429.90" y="68.30" font-style="italic">k</tspan><tspan x="441.15" y="71.60" font-size="13.8" font-style="italic">&#952;</tspan><tspan x="450.85" y="68.30" font-style="italic">&#961;</tspan><tspan x="462.55" y="71.60" font-size="13.8" font-style="italic">s</tspan><tspan x="473.65" y="68.30">=</tspan><tspan x="495.10" y="68.30">0.0</tspan><tspan x="529.95" y="68.30">&#8722;</tspan><tspan x="550.95" y="68.30">1.4</tspan></text>
<text font-size="19.7"><tspan x="261.00" y="98.3">time</tspan><tspan x="311.20" y="98.3">averaged</tspan><tspan x="410.60" y="98.3">heat</tspan><tspan x="462.00" y="98.3">flux</tspan><tspan x="506.20" y="98.3">for</tspan><tspan x="538.60" y="98.30" font-style="italic">R</tspan><tspan x="552.10" y="98.30">/</tspan><tspan x="558.60" y="98.30" font-style="italic">L</tspan><tspan x="569.90" y="101.60" font-size="13.8" font-style="italic">T</tspan><tspan x="582.00" y="98.30">=</tspan><tspan x="602.50" y="98.30">13.11</tspan><tspan x="675.80" y="98.30">&#10233;</tspan><tspan x="714.25" y="98.30" font-style="italic">k</tspan><tspan x="725.50" y="101.60" font-size="13.8" font-style="italic">&#952;</tspan><tspan x="735.20" y="98.30" font-style="italic">&#961;</tspan><tspan x="746.90" y="101.60" font-size="13.8" font-style="italic">s</tspan><tspan x="758.00" y="98.30">=</tspan><tspan x="779.45" y="98.30">0.0</tspan><tspan x="814.30" y="98.30">&#8722;</tspan><tspan x="835.30" y="98.30">1.4</tspan></text>
<text font-size="19.7"><tspan x="260.45" y="128.30" font-style="italic">R</tspan><tspan x="273.95" y="128.30">/</tspan><tspan x="280.45" y="128.30" font-style="italic">L</tspan><tspan x="291.75" y="131.60" font-size="13.8" font-style="italic">T</tspan><tspan x="303.85" y="128.30">=</tspan><tspan x="324.35" y="128.30">13.11</tspan><tspan x="391.45" y="128.30">&#10233;</tspan><tspan x="429.90" y="128.30" font-style="italic">k</tspan><tspan x="441.15" y="131.60" font-size="13.8" font-style="italic">&#952;</tspan><tspan x="450.85" y="128.30" font-style="italic">&#961;</tspan><tspan x="462.55" y="131.60" font-size="13.8" font-style="italic">s</tspan><tspan x="473.65" y="128.30">=</tspan><tspan x="495.10" y="128.30">0.0</tspan><tspan x="529.95" y="128.30">&#8722;</tspan><tspan x="550.95" y="128.30">0.8</tspan></text>
<text font-size="19.7"><tspan x="261.00" y="158.3">time</tspan><tspan x="311.20" y="158.3">averaged</tspan><tspan x="410.60" y="158.3">heat</tspan><tspan x="462.00" y="158.3">flux</tspan><tspan x="506.20" y="158.3">for</tspan><tspan x="538.60" y="158.30" font-style="italic">R</tspan><tspan x="552.10" y="158.30">/</tspan><tspan x="558.60" y="158.30" font-style="italic">L</tspan><tspan x="569.90" y="161.60" font-size="13.8" font-style="italic">T</tspan><tspan x="582.00" y="158.30">=</tspan><tspan x="602.50" y="158.30">13.11</tspan><tspan x="675.80" y="158.30">&#10233;</tspan><tspan x="714.25" y="158.30" font-style="italic">k</tspan><tspan x="725.50" y="161.60" font-size="13.8" font-style="italic">&#952;</tspan><tspan x="735.20" y="158.30" font-style="italic">&#961;</tspan><tspan x="746.90" y="161.60" font-size="13.8" font-style="italic">s</tspan><tspan x="758.00" y="158.30">=</tspan><tspan x="779.45" y="158.30">0.0</tspan><tspan x="814.30" y="158.30">&#8722;</tspan><tspan x="835.30" y="158.30">0.8</tspan></text>
</g>
<g id="plot-b">
<clipPath id="clip-b"><rect x="1046.1" y="35.7" width="774.8" height="779.2"/></clipPath>
<g clip-path="url(#clip-b)" fill="none" stroke-linejoin="round" stroke-linecap="butt">
<path d="M1046.2 814.9C1047.2 814.9 1059.8 814.9 1061.0 814.9C1062.2 814.9 1063.2 814.6 1063.5 814.4C1063.8 814.2 1065.7 812.9 1066.0 812.5C1066.3 812.1 1068.2 808.8 1068.5 808.0C1068.8 807.2 1070.0 801.3 1070.2 800.0C1070.4 798.7 1071.3 790.0 1071.4 788.0C1071.5 786.0 1072.1 772.9 1072.2 770.0C1072.3 767.1 1072.9 749.7 1073.0 745.0C1073.1 740.3 1073.5 709.7 1073.6 700.0C1073.7 690.3 1074.3 616.3 1074.4 600.0C1074.5 583.7 1075.0 469.7 1075.1 455.0C1075.2 440.3 1076.1 387.7 1076.2 380.0C1076.3 372.3 1077.2 340.0 1077.3 340.0C1077.4 340.0 1078.2 374.7 1078.3 380.0C1078.4 385.3 1079.0 416.0 1079.1 420.0C1079.2 424.0 1080.2 437.3 1080.4 440.0C1080.6 442.7 1081.5 456.0 1081.6 460.0C1081.7 464.0 1082.5 494.7 1082.6 500.0C1082.7 505.3 1083.4 535.7 1083.5 540.0C1083.6 544.3 1084.6 561.7 1084.8 565.0C1085.0 568.3 1085.7 586.7 1085.8 590.0C1085.9 593.3 1086.5 611.9 1086.6 615.0C1086.7 618.1 1087.3 636.6 1087.5 637.0C1087.7 637.4 1088.9 623.3 1089.1 621.0C1089.3 618.7 1090.7 603.9 1091.0 602.0C1091.3 600.1 1092.7 593.7 1092.9 592.0C1093.1 590.3 1093.9 579.7 1094.1 577.0C1094.3 574.3 1095.2 555.1 1095.3 552.0C1095.4 548.9 1096.2 533.1 1096.3 530.0C1096.4 526.9 1096.7 508.3 1096.8 505.0C1096.9 501.7 1097.1 483.3 1097.2 480.0C1097.3 476.7 1097.9 457.3 1098.0 455.0C1098.1 452.7 1098.9 446.0 1099.0 445.0C1099.1 444.0 1099.8 439.2 1100.0 440.5C1100.2 441.8 1101.4 461.4 1101.6 465.0C1101.8 468.7 1102.9 491.3 1103.0 495.0C1103.2 498.8 1104.2 517.9 1104.4 521.1C1104.6 524.3 1105.9 541.4 1106.0 543.1C1106.2 544.7 1106.7 547.0 1106.8 546.1C1107.0 545.1 1107.9 529.7 1108.0 529.1C1108.2 528.5 1108.9 535.7 1109.0 537.1C1109.2 538.4 1110.3 548.5 1110.4 549.1C1110.6 549.6 1111.5 546.7 1111.6 545.1C1111.8 543.5 1112.9 527.7 1113.0 525.1C1113.2 522.4 1114.2 507.3 1114.4 505.1C1114.6 502.8 1115.8 492.0 1116.0 492.0C1116.3 492.0 1117.5 502.8 1117.7 505.1C1117.9 507.3 1118.8 522.4 1119.0 525.1C1119.3 527.7 1120.7 543.1 1121.0 545.1C1121.4 547.0 1123.3 554.6 1123.7 554.1C1124.0 553.5 1125.4 539.7 1125.7 537.1C1125.9 534.5 1127.4 518.1 1127.7 515.0C1127.9 512.0 1129.4 494.4 1129.7 491.0C1129.9 487.7 1130.9 467.7 1131.0 465.0C1131.2 462.4 1132.3 452.1 1132.5 451.0C1132.7 450.0 1133.8 448.5 1134.1 449.0C1134.3 449.5 1135.5 457.8 1135.7 459.0C1135.9 460.2 1136.8 467.3 1137.1 467.0C1137.3 466.8 1138.8 457.4 1139.1 455.0C1139.3 452.6 1140.8 433.4 1141.1 431.0C1141.3 428.6 1142.3 418.1 1142.5 419.0C1142.7 419.9 1143.8 441.3 1144.1 445.0C1144.3 448.7 1145.4 471.0 1145.7 475.0C1145.9 479.0 1147.4 501.7 1147.7 505.1C1147.9 508.4 1149.4 523.2 1149.7 525.1C1150.0 526.9 1151.8 533.1 1152.1 533.1C1152.4 533.1 1153.8 526.9 1154.1 525.1C1154.3 523.2 1155.5 506.7 1155.7 505.1C1155.9 503.4 1156.9 502.4 1157.1 501.1C1157.3 499.7 1158.3 487.4 1158.5 485.0C1158.7 482.6 1159.9 466.5 1160.1 465.0C1160.3 463.6 1161.5 462.6 1161.7 463.4C1161.9 464.2 1162.9 474.9 1163.1 477.0C1163.3 479.1 1164.3 492.8 1164.5 495.0C1164.7 497.3 1165.8 509.2 1166.1 511.1C1166.3 512.9 1167.8 521.9 1168.1 523.1C1168.3 524.3 1169.5 528.9 1169.7 529.1C1169.9 529.2 1170.9 524.5 1171.1 525.1C1171.3 525.6 1172.3 535.9 1172.5 537.1C1172.7 538.2 1173.4 542.1 1173.7 542.1C1173.9 542.1 1175.8 538.2 1176.1 537.1C1176.3 535.9 1177.5 527.9 1177.7 525.1C1177.9 522.3 1178.9 499.0 1179.1 495.0C1179.3 491.0 1180.3 468.5 1180.5 465.0C1180.7 461.6 1181.6 444.9 1181.7 443.0C1181.8 441.2 1182.3 436.9 1182.5 437.4C1182.7 437.9 1183.8 449.2 1184.1 451.0C1184.3 452.9 1185.8 465.4 1186.1 465.0C1186.4 464.6 1187.8 447.4 1188.1 445.0C1188.4 442.6 1189.8 429.7 1190.1 429.4C1190.3 429.1 1191.5 439.3 1191.7 441.0C1191.9 442.7 1192.9 452.8 1193.1 455.0C1193.3 457.3 1194.3 472.5 1194.5 475.0C1194.7 477.6 1195.5 491.2 1195.7 493.0C1195.9 494.9 1196.9 502.0 1197.1 503.1C1197.3 504.1 1198.8 508.0 1199.1 509.1C1199.4 510.1 1200.9 518.0 1201.1 519.1C1201.3 520.1 1202.2 524.8 1202.5 525.1C1202.8 525.3 1204.7 522.9 1205.1 523.1C1205.5 523.2 1207.8 527.2 1208.1 527.1C1208.4 526.9 1209.9 522.5 1210.1 521.1C1210.3 519.6 1211.5 507.5 1211.7 505.1C1211.9 502.6 1212.9 486.8 1213.1 485.0C1213.3 483.3 1214.5 478.9 1214.7 479.0C1214.9 479.2 1215.9 486.0 1216.1 487.0C1216.3 488.1 1217.8 494.4 1218.1 495.0C1218.4 495.7 1219.9 497.7 1220.1 497.0C1220.3 496.4 1221.5 487.8 1221.7 485.0C1221.9 482.2 1222.9 459.0 1223.1 455.0C1223.3 451.0 1224.3 428.2 1224.5 425.0C1224.7 421.8 1225.9 407.0 1226.1 407.0C1226.3 407.0 1227.4 422.5 1227.7 425.0C1228.0 427.5 1229.8 441.7 1230.1 445.0C1230.4 448.3 1231.9 471.0 1232.1 475.0C1232.4 479.0 1233.9 501.4 1234.1 505.1C1234.4 508.7 1235.5 526.4 1235.7 529.1C1236.0 531.7 1237.5 544.5 1237.7 545.1C1238.0 545.6 1239.5 538.4 1239.7 537.1C1240.0 535.7 1241.4 526.3 1241.7 525.1C1242.0 523.9 1243.8 520.1 1244.1 519.1C1244.4 518.0 1245.8 511.7 1246.1 509.1C1246.4 506.4 1248.3 480.0 1248.5 479.4C1248.8 478.9 1249.9 498.0 1250.1 501.1C1250.3 504.1 1251.5 522.4 1251.7 525.1C1251.9 527.7 1252.9 539.7 1253.1 541.1C1253.4 542.4 1254.9 546.1 1255.1 545.1C1255.4 544.0 1256.9 527.7 1257.1 525.1C1257.4 522.4 1258.3 508.0 1258.5 505.1C1258.7 502.1 1259.9 484.1 1260.1 481.0C1260.3 478.0 1261.6 460.8 1261.7 459.0C1261.9 457.3 1262.4 453.3 1262.5 455.0C1262.7 456.8 1263.6 481.0 1263.7 485.0C1263.9 489.0 1264.4 511.6 1264.5 515.0C1264.7 518.5 1265.4 534.5 1265.5 537.1C1265.7 539.6 1266.4 551.3 1266.5 553.1C1266.7 554.8 1267.6 563.1 1267.7 563.1C1267.9 563.1 1269.0 552.3 1269.1 553.1C1269.3 553.9 1270.3 574.3 1270.5 575.1C1270.7 575.9 1271.9 566.5 1272.1 565.1C1272.4 563.6 1273.5 554.1 1273.7 553.1C1273.9 552.0 1275.0 548.3 1275.1 549.1C1275.3 549.9 1276.4 563.2 1276.5 565.1C1276.7 566.9 1277.6 577.4 1277.7 577.1C1277.9 576.8 1278.9 563.2 1279.1 561.1C1279.4 558.9 1280.9 547.5 1281.1 545.1C1281.4 542.7 1282.4 527.7 1282.5 525.1C1282.7 522.4 1283.6 508.0 1283.8 505.1C1283.9 502.1 1285.0 482.8 1285.2 481.0C1285.3 479.2 1286.3 477.8 1286.5 478.0C1286.8 478.3 1287.9 484.2 1288.2 485.0C1288.4 485.9 1289.5 491.7 1289.8 491.0C1290.0 490.4 1291.0 477.2 1291.2 475.0C1291.3 472.9 1292.3 460.3 1292.5 459.0C1292.8 457.8 1293.9 455.4 1294.2 456.4C1294.4 457.5 1295.5 472.1 1295.8 475.0C1296.0 478.0 1297.0 499.6 1297.2 501.1C1297.3 502.5 1298.4 497.6 1298.6 497.0C1298.7 496.5 1299.6 491.8 1299.8 493.0C1299.9 494.2 1301.0 512.1 1301.2 515.0C1301.3 518.0 1302.4 535.3 1302.6 537.1C1302.7 538.8 1303.6 541.3 1303.8 541.1C1303.9 540.8 1304.9 533.5 1305.2 533.1C1305.4 532.7 1306.9 534.3 1307.2 535.1C1307.4 535.9 1308.9 543.6 1309.2 545.1C1309.4 546.5 1310.9 555.9 1311.2 557.1C1311.4 558.3 1312.9 562.5 1313.2 563.1C1313.4 563.7 1314.9 566.7 1315.2 566.1C1315.4 565.4 1316.9 555.3 1317.2 553.1C1317.4 550.9 1318.4 535.6 1318.6 533.1C1318.8 530.5 1319.9 516.5 1320.2 515.0C1320.4 513.6 1321.9 511.6 1322.2 512.0C1322.4 512.5 1323.9 519.4 1324.2 521.1C1324.4 522.7 1325.6 534.9 1325.8 537.1C1326.0 539.2 1327.0 551.6 1327.2 553.1C1327.4 554.5 1328.4 559.9 1328.6 559.1C1328.8 558.3 1330.0 543.7 1330.2 541.1C1330.4 538.4 1331.6 521.3 1331.8 519.1C1332.0 516.8 1333.0 508.1 1333.2 507.1C1333.4 506.0 1335.0 502.7 1335.2 503.1C1335.4 503.4 1336.4 512.1 1336.6 513.0C1336.8 514.0 1338.0 518.3 1338.2 517.1C1338.4 515.9 1339.6 498.5 1339.8 495.0C1340.0 491.6 1341.0 467.8 1341.2 465.0C1341.3 462.2 1342.0 453.7 1342.2 453.4C1342.4 453.2 1343.6 460.6 1343.8 461.0C1344.0 461.5 1345.0 459.1 1345.2 460.0C1345.4 461.0 1346.4 472.0 1346.6 475.0C1346.8 478.0 1348.0 501.0 1348.2 505.1C1348.4 509.1 1349.6 531.7 1349.8 535.1C1350.0 538.4 1351.0 552.3 1351.2 555.1C1351.4 557.9 1352.9 575.0 1353.2 577.1C1353.5 579.2 1355.0 586.2 1355.2 587.1C1355.4 588.0 1356.4 590.8 1356.6 590.1C1356.8 589.4 1358.3 579.4 1358.6 577.1C1358.9 574.8 1360.3 557.9 1360.6 555.1C1360.8 552.3 1362.0 538.1 1362.2 535.1C1362.4 532.0 1363.5 512.4 1363.8 509.1C1364.0 505.7 1365.6 487.7 1365.8 485.0C1366.0 482.4 1367.0 470.2 1367.2 469.0C1367.4 467.8 1368.9 467.7 1369.2 467.0C1369.5 466.4 1370.9 460.1 1371.2 459.0C1371.5 457.9 1373.0 450.0 1373.2 450.4C1373.4 450.8 1374.4 463.0 1374.6 465.0C1374.8 467.1 1376.0 479.3 1376.2 481.0C1376.4 482.8 1377.9 490.4 1378.2 491.0C1378.5 491.7 1379.9 490.9 1380.2 491.0C1380.5 491.2 1381.9 493.0 1382.2 493.0C1382.5 493.0 1384.9 490.0 1385.2 491.0C1385.5 492.1 1387.0 507.0 1387.2 509.1C1387.4 511.1 1388.4 520.1 1388.6 521.1C1388.8 522.0 1389.6 524.1 1389.8 523.1C1390.0 522.0 1391.0 507.9 1391.2 505.1C1391.4 502.2 1392.4 483.2 1392.6 481.0C1392.8 478.9 1394.0 472.8 1394.2 473.0C1394.4 473.3 1395.6 483.6 1395.8 485.0C1396.0 486.5 1396.9 494.0 1397.2 495.0C1397.5 496.1 1399.8 500.4 1400.2 501.1C1400.6 501.7 1402.9 504.1 1403.2 505.1C1403.6 506.0 1405.0 513.2 1405.2 515.0C1405.5 516.9 1407.0 529.7 1407.2 533.1C1407.5 536.4 1409.0 562.9 1409.2 565.1C1409.4 567.2 1410.2 565.9 1410.4 565.1C1410.6 564.3 1411.8 555.7 1412.0 553.1C1412.2 550.4 1413.4 528.9 1413.6 525.1C1413.8 521.2 1414.8 498.6 1415.0 495.0C1415.2 491.4 1416.7 473.7 1417.0 471.0C1417.3 468.4 1418.7 456.0 1419.0 455.0C1419.3 454.0 1420.7 456.2 1421.0 456.0C1421.3 455.9 1422.7 453.4 1423.0 453.0C1423.3 452.7 1424.8 449.8 1425.0 450.6C1425.2 451.4 1426.2 462.5 1426.4 465.0C1426.6 467.6 1427.4 485.8 1427.6 489.0C1427.8 492.2 1428.8 510.4 1429.0 513.0C1429.2 515.7 1430.2 527.9 1430.4 529.1C1430.6 530.3 1431.8 530.1 1432.0 531.1C1432.3 532.0 1433.8 542.7 1434.0 543.1C1434.3 543.5 1435.8 537.7 1436.0 537.1C1436.3 536.4 1437.4 533.1 1437.6 533.1C1437.8 533.1 1438.8 537.6 1439.0 537.1C1439.2 536.5 1440.8 525.6 1441.0 525.1C1441.3 524.5 1442.8 528.5 1443.0 529.1C1443.3 529.6 1444.8 533.1 1445.0 533.1C1445.3 533.1 1446.8 530.9 1447.0 529.1C1447.3 527.2 1448.8 508.3 1449.0 505.1C1449.3 501.8 1450.8 484.4 1451.0 481.0C1451.3 477.7 1452.8 457.7 1453.0 455.0C1453.3 452.4 1454.8 441.4 1455.0 441.4C1455.3 441.4 1456.4 452.1 1456.6 455.0C1456.8 457.9 1457.9 481.0 1458.0 485.0C1458.2 489.0 1458.9 511.3 1459.0 515.0C1459.2 518.8 1459.9 538.8 1460.0 541.1C1460.2 543.3 1461.4 548.1 1461.6 549.1C1461.9 550.0 1463.4 555.3 1463.6 555.1C1463.9 554.8 1465.1 547.1 1465.2 545.1C1465.4 543.1 1466.3 528.4 1466.4 525.1C1466.6 521.7 1467.5 499.0 1467.6 495.0C1467.8 491.0 1468.7 467.8 1468.8 465.0C1469.0 462.2 1469.9 453.0 1470.0 453.0C1470.2 453.0 1471.4 463.2 1471.6 465.0C1471.8 466.9 1472.9 479.3 1473.0 481.0C1473.2 482.8 1474.2 490.2 1474.4 491.0C1474.6 491.8 1475.8 492.1 1476.0 493.0C1476.3 494.0 1477.5 503.2 1477.7 505.1C1477.9 506.9 1478.8 519.7 1479.0 521.1C1479.3 522.4 1480.8 524.5 1481.0 525.1C1481.3 525.6 1482.8 528.5 1483.0 529.1C1483.3 529.6 1484.8 532.0 1485.0 533.1C1485.3 534.1 1486.8 543.2 1487.0 545.1C1487.3 546.9 1488.8 559.2 1489.0 561.1C1489.3 562.9 1490.8 572.2 1491.0 573.1C1491.3 574.0 1492.3 575.6 1492.5 575.1C1492.7 574.6 1493.8 567.1 1494.1 565.1C1494.3 563.1 1495.5 548.4 1495.7 545.1C1495.9 541.7 1496.9 518.4 1497.1 515.0C1497.2 511.7 1498.3 496.6 1498.5 495.0C1498.7 493.4 1499.8 490.4 1500.1 491.0C1500.3 491.7 1501.8 503.6 1502.1 505.1C1502.3 506.5 1503.8 512.8 1504.1 513.0C1504.3 513.3 1505.8 508.2 1506.1 509.1C1506.3 509.9 1507.8 523.6 1508.1 525.1C1508.3 526.5 1509.8 531.3 1510.1 531.1C1510.3 530.8 1511.8 522.5 1512.1 521.1C1512.3 519.6 1513.8 510.4 1514.1 509.1C1514.3 507.7 1515.8 502.3 1516.1 501.1C1516.3 499.8 1517.8 490.8 1518.1 491.0C1518.3 491.3 1519.5 503.0 1519.7 505.1C1519.9 507.1 1520.9 519.2 1521.1 521.1C1521.3 522.9 1522.3 531.9 1522.5 533.1C1522.7 534.3 1523.8 539.3 1524.1 539.1C1524.3 538.8 1525.8 531.3 1526.1 529.1C1526.3 526.8 1527.8 508.0 1528.1 505.1C1528.3 502.1 1529.8 486.9 1530.1 485.0C1530.3 483.2 1531.5 476.4 1531.7 477.0C1531.9 477.7 1532.9 492.1 1533.1 495.0C1533.3 498.0 1534.3 518.3 1534.5 521.1C1534.7 523.9 1535.9 535.5 1536.1 537.1C1536.3 538.7 1537.5 544.8 1537.7 545.1C1537.9 545.3 1538.9 541.6 1539.1 541.1C1539.3 540.5 1540.8 537.3 1541.1 537.1C1541.3 536.8 1542.9 537.9 1543.1 537.1C1543.3 536.3 1544.3 527.2 1544.5 525.1C1544.7 522.9 1545.9 508.0 1546.1 505.1C1546.3 502.1 1547.5 484.0 1547.7 481.0C1547.9 478.1 1548.9 463.2 1549.1 461.0C1549.3 458.9 1550.3 450.1 1550.5 449.0C1550.7 447.9 1551.8 445.4 1552.1 445.0C1552.3 444.6 1553.8 443.4 1554.1 443.0C1554.4 442.6 1555.8 439.5 1556.1 439.0C1556.4 438.5 1557.8 435.0 1558.1 435.4C1558.3 435.8 1559.5 444.0 1559.7 445.0C1559.9 446.1 1560.9 451.2 1561.1 451.0C1561.3 450.9 1562.3 443.9 1562.5 443.0C1562.7 442.1 1563.9 435.9 1564.1 437.4C1564.3 438.9 1565.5 461.2 1565.7 465.0C1565.9 468.9 1566.9 491.0 1567.1 495.0C1567.3 499.0 1568.3 521.1 1568.5 525.1C1568.7 529.1 1569.9 551.9 1570.1 555.1C1570.3 558.3 1571.5 572.0 1571.7 573.1C1571.9 574.2 1573.4 571.4 1573.7 571.1C1574.0 570.8 1575.4 569.0 1575.7 569.1C1576.0 569.2 1577.4 573.4 1577.7 573.1C1578.0 572.8 1579.4 565.9 1579.7 565.1C1580.0 564.3 1581.8 561.9 1582.1 561.1C1582.4 560.3 1583.8 553.7 1584.1 553.1C1584.4 552.4 1585.9 550.3 1586.1 551.1C1586.3 551.9 1587.5 562.8 1587.7 565.1C1587.9 567.3 1588.9 583.4 1589.1 585.1C1589.3 586.8 1590.8 591.8 1591.1 591.1C1591.4 590.4 1592.9 578.2 1593.1 575.1C1593.3 572.0 1594.3 549.1 1594.5 545.1C1594.7 541.1 1595.5 518.8 1595.7 515.0C1595.9 511.3 1596.9 491.7 1597.1 489.0C1597.3 486.4 1598.3 477.3 1598.5 475.0C1598.7 472.8 1599.9 457.4 1600.1 455.0C1600.4 452.6 1601.9 439.5 1602.1 439.0C1602.4 438.5 1603.9 446.3 1604.1 447.0C1604.4 447.7 1605.9 449.7 1606.1 449.0C1606.4 448.3 1607.5 438.5 1607.7 437.0C1607.9 435.5 1608.9 425.5 1609.1 426.0C1609.3 426.5 1610.3 442.4 1610.5 445.0C1610.7 447.6 1611.9 463.0 1612.1 465.0C1612.3 467.0 1613.5 472.4 1613.7 475.0C1613.9 477.7 1614.9 501.7 1615.1 505.1C1615.3 508.4 1616.3 523.5 1616.5 525.1C1616.7 526.7 1617.9 529.1 1618.1 529.1C1618.4 529.1 1619.9 526.3 1620.1 525.1C1620.4 523.9 1621.5 512.1 1621.7 511.1C1621.9 510.0 1622.9 508.4 1623.1 509.1C1623.3 509.7 1624.3 519.5 1624.5 521.1C1624.7 522.7 1625.9 531.5 1626.1 533.1C1626.4 534.7 1627.9 543.5 1628.1 545.1C1628.4 546.7 1629.9 555.7 1630.1 557.1C1630.4 558.4 1631.9 564.3 1632.1 565.1C1632.4 565.9 1633.9 569.8 1634.1 569.1C1634.4 568.4 1635.5 558.0 1635.7 555.1C1635.9 552.1 1637.0 529.1 1637.1 525.1C1637.3 521.1 1638.3 498.4 1638.5 495.0C1638.7 491.7 1639.9 476.8 1640.1 475.0C1640.4 473.3 1641.9 468.4 1642.2 469.0C1642.4 469.7 1643.9 483.4 1644.2 485.0C1644.4 486.6 1645.9 493.3 1646.2 493.0C1646.4 492.8 1647.9 482.0 1648.2 481.0C1648.4 480.0 1649.9 477.1 1650.2 478.0C1650.4 479.0 1651.5 492.6 1651.8 495.0C1652.0 497.5 1653.0 512.5 1653.2 515.0C1653.3 517.6 1654.3 531.3 1654.5 533.1C1654.8 534.8 1655.9 541.6 1656.2 541.1C1656.4 540.5 1657.9 527.5 1658.2 525.1C1658.4 522.7 1659.9 507.7 1660.2 505.1C1660.4 502.4 1661.9 486.9 1662.2 485.0C1662.4 483.2 1663.9 476.4 1664.2 477.0C1664.4 477.7 1665.6 492.5 1665.8 495.0C1666.0 497.6 1666.9 512.4 1667.2 515.0C1667.4 517.7 1668.9 533.1 1669.2 535.1C1669.4 537.1 1670.9 544.9 1671.2 545.1C1671.4 545.2 1672.9 537.9 1673.2 537.1C1673.4 536.3 1674.9 532.5 1675.2 533.1C1675.4 533.6 1676.9 545.6 1677.2 545.1C1677.4 544.5 1678.4 528.4 1678.6 525.1C1678.7 521.7 1679.6 499.4 1679.8 495.0C1679.9 490.6 1681.0 462.7 1681.2 459.0C1681.3 455.4 1682.0 442.9 1682.2 440.0C1682.3 437.1 1683.0 418.9 1683.2 416.0C1683.3 413.1 1684.0 398.0 1684.2 396.0C1684.3 394.0 1685.0 385.3 1685.2 385.6C1685.3 385.8 1686.2 397.7 1686.4 400.0C1686.5 402.3 1687.2 417.3 1687.4 420.0C1687.5 422.7 1688.0 437.4 1688.2 440.0C1688.3 442.6 1689.0 456.0 1689.2 459.0C1689.3 462.0 1690.0 481.3 1690.2 485.0C1690.3 488.8 1691.0 511.0 1691.2 515.0C1691.3 519.1 1692.4 541.7 1692.6 545.1C1692.8 548.4 1693.6 563.5 1693.8 565.1C1694.0 566.6 1695.0 568.8 1695.2 568.1C1695.4 567.4 1696.4 556.6 1696.6 555.1C1696.8 553.5 1697.9 545.5 1698.2 545.1C1698.4 544.7 1699.9 548.3 1700.2 549.1C1700.4 549.9 1701.9 556.8 1702.2 557.1C1702.4 557.3 1703.9 553.9 1704.2 553.1C1704.4 552.3 1705.9 546.1 1706.2 545.1C1706.4 544.0 1707.9 537.9 1708.2 537.1C1708.4 536.3 1709.9 533.1 1710.2 533.1C1710.5 533.1 1711.9 535.7 1712.2 537.1C1712.5 538.4 1713.9 551.2 1714.2 553.1C1714.5 554.9 1715.9 565.6 1716.2 565.1C1716.5 564.5 1718.0 547.7 1718.2 545.1C1718.4 542.4 1719.6 527.5 1719.8 525.1C1720.0 522.7 1721.0 510.7 1721.2 509.1C1721.4 507.4 1722.4 502.3 1722.6 501.1C1722.8 499.8 1724.0 491.0 1724.2 491.0C1724.4 491.0 1725.6 499.6 1725.8 501.1C1726.0 502.5 1727.0 511.4 1727.2 513.0C1727.4 514.7 1728.9 524.0 1729.2 525.1C1729.5 526.1 1730.9 528.3 1731.2 529.1C1731.5 529.9 1733.0 536.3 1733.2 537.1C1733.4 537.9 1734.4 541.3 1734.6 541.1C1734.8 540.8 1736.0 534.1 1736.2 533.1C1736.4 532.0 1737.9 524.8 1738.2 525.1C1738.5 525.3 1739.9 536.0 1740.2 537.1C1740.5 538.1 1741.9 541.6 1742.2 541.1C1742.5 540.5 1743.9 530.5 1744.2 529.1C1744.5 527.6 1745.9 520.0 1746.2 519.1C1746.5 518.1 1747.9 515.0 1748.2 515.0C1748.5 515.0 1749.9 518.1 1750.2 519.1C1750.5 520.0 1751.9 527.9 1752.2 529.1C1752.5 530.3 1753.9 536.8 1754.2 537.1C1754.5 537.3 1755.9 532.5 1756.2 533.1C1756.5 533.6 1757.9 543.2 1758.2 545.1C1758.5 546.9 1760.0 559.3 1760.2 561.1C1760.5 562.8 1762.0 570.8 1762.2 571.1C1762.5 571.4 1764.0 565.6 1764.2 565.1C1764.5 564.5 1766.0 563.9 1766.2 563.1C1766.5 562.3 1768.0 554.3 1768.2 553.1C1768.5 551.9 1769.9 545.5 1770.2 545.1C1770.4 544.7 1771.9 547.6 1772.2 547.1C1772.4 546.5 1773.9 539.2 1774.2 537.1C1774.4 534.9 1775.9 518.5 1776.2 515.0C1776.4 511.6 1777.9 489.0 1778.2 485.0C1778.4 481.0 1780.0 458.4 1780.2 455.0C1780.4 451.7 1781.4 436.9 1781.6 435.0C1781.8 433.1 1782.6 426.3 1782.8 427.0C1783.0 427.7 1784.0 441.8 1784.2 445.0C1784.3 448.2 1785.0 471.0 1785.2 475.0C1785.3 479.0 1786.0 501.4 1786.2 505.1C1786.3 508.7 1787.0 526.1 1787.2 529.1C1787.4 532.0 1788.6 546.9 1788.8 549.1C1789.0 551.2 1790.0 561.3 1790.2 561.1C1790.4 560.8 1791.4 547.7 1791.6 545.1C1791.8 542.4 1793.0 523.7 1793.2 521.1C1793.4 518.4 1794.6 506.4 1794.8 505.1C1795.0 503.7 1795.8 500.4 1796.0 500.6C1796.2 500.9 1797.4 507.4 1797.6 509.1C1797.8 510.7 1799.0 522.7 1799.2 525.1C1799.4 527.5 1800.6 542.8 1800.8 545.1C1801.0 547.3 1802.0 558.8 1802.2 559.1C1802.4 559.3 1803.9 550.0 1804.2 549.1C1804.5 548.1 1806.0 544.5 1806.2 545.1C1806.4 545.6 1807.4 556.5 1807.6 557.1C1807.8 557.6 1809.0 553.2 1809.2 553.1C1809.4 552.9 1810.6 554.5 1810.8 555.1C1811.0 555.6 1812.2 561.1 1812.4 561.1C1812.6 561.1 1813.6 556.1 1813.8 555.1C1814.0 554.0 1815.0 547.1 1815.2 545.1C1815.4 543.1 1816.6 527.7 1816.8 525.1C1817.0 522.4 1818.0 507.7 1818.2 505.1C1818.4 502.4 1819.4 487.0 1819.6 485.0C1819.8 483.0 1821.5 475.7 1821.6 475.0" stroke="#ff0000" stroke-width="4.7"/>
<line x1="1433.5" y1="507.0" x2="1820.9" y2="507.0" stroke="#bf00bf" stroke-width="6.1" stroke-dasharray="23.5 11.5"/>
<path d="M1046.2 814.9C1047.3 814.9 1060.8 814.9 1062.0 814.9C1063.2 814.9 1064.2 814.6 1064.5 814.5C1064.8 814.4 1066.7 813.4 1067.0 813.0C1067.3 812.6 1069.2 809.7 1069.5 809.0C1069.8 808.3 1070.8 803.3 1071.0 802.0C1071.2 800.7 1071.8 792.1 1071.9 790.0C1072.0 787.9 1072.2 773.3 1072.3 770.0C1072.4 766.7 1072.6 744.7 1072.7 740.0C1072.8 735.3 1073.0 709.3 1073.1 700.0C1073.2 690.7 1073.9 616.3 1074.0 600.0C1074.1 583.7 1074.6 471.3 1074.7 455.0C1074.8 438.7 1075.3 373.0 1075.4 355.0C1075.5 337.0 1076.1 200.7 1076.2 185.0C1076.3 169.3 1076.6 125.7 1076.6 120.0C1076.6 114.3 1076.9 99.2 1076.9 99.2C1076.9 99.2 1077.1 114.3 1077.2 120.0C1077.3 125.7 1077.8 169.3 1077.9 185.0C1078.0 200.7 1078.3 337.0 1078.4 355.0C1078.5 373.0 1079.1 442.7 1079.3 455.0C1079.5 467.3 1081.2 531.7 1081.5 540.0C1081.8 548.3 1083.3 575.3 1083.5 580.0C1083.7 584.7 1084.8 607.2 1085.0 610.0C1085.2 612.8 1085.8 622.0 1086.0 621.5C1086.2 621.0 1087.7 605.0 1087.9 602.0C1088.1 599.0 1088.9 579.9 1089.1 577.0C1089.3 574.1 1090.2 560.5 1090.4 558.0C1090.6 555.5 1091.5 542.2 1091.6 540.0C1091.6 537.8 1091.6 526.9 1091.6 525.1C1091.7 523.3 1092.6 514.4 1092.8 513.0C1093.1 511.7 1094.7 505.9 1095.0 505.1C1095.4 504.2 1097.7 502.5 1098.0 500.6C1098.4 498.8 1099.7 479.4 1100.0 477.0C1100.4 474.7 1102.7 466.9 1103.0 465.0C1103.4 463.2 1104.8 451.0 1105.0 449.0C1105.3 447.0 1106.8 436.2 1107.0 435.0C1107.3 433.8 1108.2 429.4 1108.4 431.4C1108.6 433.4 1109.8 460.1 1110.0 465.0C1110.3 469.9 1111.4 500.5 1111.6 505.1C1111.8 509.6 1112.9 530.4 1113.0 533.1C1113.2 535.7 1114.2 545.3 1114.4 545.1C1114.7 544.8 1116.7 531.5 1117.0 529.1C1117.4 526.7 1118.8 510.8 1119.0 509.1C1119.3 507.3 1120.8 504.9 1121.0 503.1C1121.3 501.2 1122.2 483.4 1122.5 481.0C1122.7 478.6 1123.8 470.1 1124.0 467.0C1124.3 464.0 1125.5 438.6 1125.7 435.0C1125.8 431.4 1126.5 415.4 1126.7 413.0C1126.8 410.6 1127.7 400.4 1127.8 399.0C1128.0 397.6 1128.9 392.4 1129.0 392.4C1129.2 392.4 1130.2 397.6 1130.5 399.0C1130.7 400.4 1131.8 411.5 1132.1 413.0C1132.3 414.5 1133.4 420.3 1133.7 421.0C1133.9 421.7 1135.6 423.7 1135.9 423.6C1136.2 423.5 1137.8 419.8 1138.1 419.0C1138.3 418.2 1139.8 411.9 1140.1 411.0C1140.3 410.1 1141.8 405.6 1142.1 405.0C1142.3 404.4 1143.8 401.1 1144.1 401.4C1144.3 401.7 1145.3 407.4 1145.5 409.0C1145.6 410.6 1146.3 421.9 1146.5 425.0C1146.6 428.1 1147.5 450.4 1147.7 455.0C1147.8 459.7 1148.8 490.1 1149.1 495.0C1149.3 500.0 1150.8 526.3 1151.1 529.1C1151.3 531.8 1152.8 535.4 1153.1 536.1C1153.3 536.7 1154.8 538.5 1155.1 539.1C1155.3 539.7 1156.8 544.5 1157.1 545.1C1157.3 545.7 1158.8 549.1 1159.1 548.1C1159.3 547.0 1160.5 531.9 1160.7 529.1C1160.9 526.2 1161.9 507.3 1162.1 505.1C1162.3 502.8 1163.4 496.0 1163.7 495.0C1163.9 494.1 1165.4 493.0 1165.7 491.0C1166.0 489.0 1167.8 467.7 1168.1 465.0C1168.4 462.4 1169.8 452.4 1170.1 451.0C1170.3 449.7 1171.8 446.1 1172.1 445.0C1172.3 443.9 1173.5 436.3 1173.7 435.0C1173.9 433.7 1174.9 424.6 1175.1 425.0C1175.3 425.4 1176.8 439.3 1177.1 441.0C1177.3 442.7 1178.8 449.8 1179.1 451.0C1179.3 452.2 1180.9 458.2 1181.1 459.0C1181.3 459.8 1182.3 462.0 1182.5 463.0C1182.7 464.1 1183.8 473.2 1184.1 475.0C1184.4 476.9 1186.8 490.8 1187.1 491.0C1187.4 491.3 1188.8 479.6 1189.1 479.0C1189.4 478.5 1190.8 482.7 1191.1 483.0C1191.4 483.4 1193.4 484.4 1193.7 484.0C1194.0 483.6 1195.8 479.0 1196.1 477.0C1196.4 475.1 1197.5 457.3 1197.7 455.0C1197.9 452.7 1198.9 442.2 1199.1 442.6C1199.3 443.0 1200.5 459.1 1200.7 461.0C1200.9 462.9 1201.9 470.6 1202.1 471.0C1202.3 471.4 1202.9 466.1 1203.1 467.0C1203.3 468.0 1204.3 482.5 1204.5 485.0C1204.7 487.6 1205.9 503.2 1206.1 505.1C1206.3 506.9 1207.8 512.0 1208.1 513.0C1208.4 514.1 1209.8 520.3 1210.1 521.1C1210.4 521.9 1211.8 525.2 1212.1 525.1C1212.4 524.9 1213.9 520.0 1214.1 519.1C1214.3 518.1 1215.5 510.1 1215.7 511.1C1215.9 512.0 1216.9 532.4 1217.1 533.1C1217.3 533.7 1218.5 522.1 1218.7 521.1C1218.9 520.0 1219.5 516.7 1219.7 517.1C1219.9 517.5 1220.9 527.3 1221.1 527.1C1221.3 526.8 1222.3 515.9 1222.5 513.0C1222.7 510.2 1223.9 488.9 1224.1 485.0C1224.3 481.2 1225.2 459.0 1225.3 455.0C1225.4 451.0 1226.0 429.7 1226.1 425.0C1226.2 420.3 1227.0 390.6 1227.1 385.0C1227.2 379.4 1228.0 345.6 1228.1 340.9C1228.2 336.3 1229.0 315.1 1229.1 315.3C1229.2 315.6 1230.0 340.6 1230.1 344.9C1230.2 349.3 1230.9 376.0 1231.1 380.0C1231.3 383.9 1232.3 401.6 1232.5 404.0C1232.7 406.4 1233.9 413.6 1234.1 416.0C1234.3 418.4 1235.0 436.7 1235.1 440.0C1235.3 443.3 1236.0 462.0 1236.1 465.0C1236.3 468.0 1237.3 482.4 1237.5 485.0C1237.7 487.7 1238.9 503.0 1239.1 505.1C1239.4 507.1 1240.9 515.7 1241.1 515.0C1241.3 514.4 1242.3 497.4 1242.5 495.0C1242.7 492.6 1243.9 478.4 1244.1 479.0C1244.3 479.7 1245.5 501.7 1245.7 505.1C1246.0 508.4 1247.5 526.4 1247.7 529.1C1247.9 531.7 1248.9 543.3 1249.1 545.1C1249.4 546.8 1250.9 553.7 1251.1 555.1C1251.4 556.5 1252.3 566.2 1252.5 566.1C1252.7 565.9 1253.9 554.7 1254.1 553.1C1254.3 551.4 1255.5 541.1 1255.7 541.1C1255.9 541.1 1256.9 552.8 1257.1 553.1C1257.3 553.3 1258.3 547.6 1258.5 545.1C1258.7 542.5 1259.9 519.1 1260.1 515.0C1260.3 511.0 1261.6 488.8 1261.7 485.0C1261.9 481.3 1262.4 462.7 1262.5 459.0C1262.7 455.4 1263.6 433.5 1263.7 430.0C1263.9 426.5 1264.8 408.4 1264.9 406.0C1265.1 403.6 1266.0 394.9 1266.1 394.4C1266.3 393.8 1267.5 397.2 1267.7 398.0C1267.9 398.8 1269.0 403.9 1269.1 406.0C1269.3 408.1 1270.0 426.5 1270.1 430.0C1270.3 433.5 1271.0 453.3 1271.1 459.0C1271.3 464.7 1272.3 510.2 1272.5 515.0C1272.7 519.9 1273.9 529.7 1274.1 531.1C1274.4 532.5 1275.5 536.5 1275.7 536.1C1276.0 535.7 1277.1 527.1 1277.3 525.1C1277.5 523.0 1278.6 509.5 1278.7 505.1C1278.9 500.6 1280.0 463.1 1280.1 459.0C1280.3 455.0 1280.9 445.5 1281.1 444.0C1281.3 442.5 1282.9 437.9 1283.2 436.0C1283.4 434.1 1284.0 418.5 1284.2 416.0C1284.3 413.5 1285.0 398.4 1285.2 398.4C1285.3 398.4 1286.4 413.2 1286.5 416.0C1286.7 418.8 1287.6 437.1 1287.8 440.0C1287.9 442.9 1288.9 456.0 1289.2 459.0C1289.4 462.0 1291.4 482.0 1291.8 485.0C1292.1 488.1 1293.5 502.9 1293.8 505.1C1294.0 507.2 1295.5 515.5 1295.8 517.1C1296.0 518.7 1297.9 528.9 1298.2 529.1C1298.4 529.2 1299.9 519.3 1300.2 519.1C1300.4 518.8 1301.9 525.1 1302.2 525.1C1302.4 525.0 1303.9 518.1 1304.2 518.1C1304.4 518.1 1305.9 524.2 1306.2 525.1C1306.4 525.9 1307.9 530.8 1308.2 531.1C1308.4 531.3 1309.9 530.1 1310.2 529.1C1310.4 528.0 1311.9 517.6 1312.2 515.0C1312.4 512.5 1313.9 494.8 1314.2 491.0C1314.4 487.3 1315.6 463.1 1315.8 459.0C1316.0 455.0 1317.0 433.5 1317.2 430.0C1317.4 426.5 1318.4 408.8 1318.6 406.0C1318.8 403.1 1320.0 387.1 1320.2 387.4C1320.4 387.6 1321.6 406.5 1321.8 410.0C1321.9 413.5 1322.4 437.0 1322.6 440.0C1322.7 443.0 1323.6 454.2 1323.8 455.0C1323.9 455.9 1324.4 451.7 1324.6 453.0C1324.7 454.4 1325.6 472.5 1325.8 475.0C1325.9 477.6 1327.0 489.3 1327.2 491.0C1327.4 492.8 1328.3 501.4 1328.6 501.1C1328.8 500.7 1330.9 486.6 1331.2 485.0C1331.5 483.4 1333.0 477.6 1333.2 477.0C1333.4 476.4 1334.4 475.5 1334.6 476.0C1334.8 476.6 1335.9 483.9 1336.2 485.0C1336.4 486.2 1337.9 492.0 1338.2 493.0C1338.4 494.1 1339.6 501.2 1339.8 501.1C1340.0 500.9 1341.0 491.8 1341.2 491.0C1341.4 490.2 1342.4 488.1 1342.6 489.0C1342.8 490.0 1343.9 502.9 1344.2 505.1C1344.4 507.2 1345.9 519.7 1346.2 521.1C1346.4 522.4 1347.9 524.5 1348.2 525.1C1348.4 525.6 1349.5 530.0 1349.8 529.1C1350.0 528.1 1351.6 513.6 1351.8 511.1C1352.0 508.5 1353.0 493.7 1353.2 491.0C1353.4 488.4 1355.0 472.6 1355.2 471.0C1355.4 469.4 1356.4 466.4 1356.6 467.0C1356.8 467.7 1358.0 478.8 1358.2 481.0C1358.4 483.3 1359.5 498.1 1359.8 501.1C1360.0 504.0 1361.5 522.6 1361.8 525.1C1362.1 527.5 1363.5 538.1 1363.8 538.1C1364.1 538.1 1365.5 526.6 1365.8 525.1C1366.1 523.5 1367.5 514.8 1367.8 515.0C1368.1 515.3 1369.6 527.4 1369.8 529.1C1370.0 530.7 1371.0 540.3 1371.2 540.1C1371.4 539.8 1372.6 527.7 1372.8 525.1C1373.0 522.5 1374.0 504.4 1374.2 501.1C1374.4 497.7 1375.6 478.4 1375.8 475.0C1376.0 471.7 1377.0 452.9 1377.2 451.0C1377.4 449.2 1378.4 446.5 1378.6 447.4C1378.8 448.3 1380.0 463.4 1380.2 465.0C1380.4 466.6 1381.6 470.8 1381.8 471.0C1382.0 471.3 1383.0 467.8 1383.2 469.0C1383.4 470.2 1384.4 485.3 1384.6 489.0C1384.8 492.8 1386.0 521.5 1386.2 525.1C1386.4 528.7 1387.4 542.7 1387.6 543.1C1387.8 543.5 1389.0 532.1 1389.2 531.1C1389.4 530.0 1390.4 526.9 1390.6 527.1C1390.8 527.2 1392.0 531.9 1392.2 533.1C1392.5 534.3 1394.0 545.6 1394.2 545.1C1394.5 544.5 1395.6 528.0 1395.8 525.1C1396.0 522.1 1397.0 504.4 1397.2 501.1C1397.4 497.7 1399.0 477.4 1399.2 475.0C1399.5 472.7 1401.0 465.4 1401.2 466.0C1401.5 466.7 1403.0 482.7 1403.2 485.0C1403.5 487.4 1405.0 499.8 1405.2 501.1C1405.5 502.3 1407.0 502.1 1407.2 503.1C1407.5 504.0 1408.9 514.8 1409.2 515.0C1409.5 515.3 1411.7 507.4 1412.0 507.1C1412.3 506.7 1413.8 507.8 1414.0 509.1C1414.2 510.3 1415.4 522.7 1415.6 525.1C1415.8 527.5 1416.8 542.4 1417.0 545.1C1417.2 547.7 1418.7 563.6 1419.0 565.1C1419.3 566.5 1421.7 567.4 1422.0 567.1C1422.3 566.8 1423.8 562.5 1424.0 561.1C1424.3 559.6 1425.4 547.7 1425.6 545.1C1425.8 542.4 1426.8 524.4 1427.0 521.1C1427.2 517.7 1428.2 498.1 1428.4 495.0C1428.6 492.0 1429.8 477.3 1430.0 475.0C1430.2 472.8 1431.4 462.6 1431.6 461.0C1431.8 459.4 1432.8 451.8 1433.0 451.0C1433.2 450.3 1434.2 449.4 1434.4 450.0C1434.6 450.7 1435.8 459.9 1436.0 461.0C1436.2 462.2 1437.4 466.4 1437.6 467.0C1437.8 467.7 1438.8 471.3 1439.0 471.0C1439.2 470.8 1440.8 462.8 1441.0 463.0C1441.2 463.3 1441.9 472.2 1442.0 475.0C1442.1 477.8 1442.6 501.0 1442.6 505.1C1442.7 509.1 1443.1 531.7 1443.2 535.1C1443.3 538.4 1443.9 554.7 1444.0 555.1C1444.2 555.5 1445.4 542.3 1445.6 541.1C1445.8 539.9 1446.8 536.8 1447.0 537.1C1447.2 537.3 1448.2 544.7 1448.4 545.1C1448.6 545.5 1449.8 543.1 1450.0 543.1C1450.2 543.1 1451.4 546.3 1451.6 545.1C1451.8 543.9 1452.8 528.4 1453.0 525.1C1453.2 521.7 1454.2 498.8 1454.4 495.0C1454.6 491.3 1455.8 471.5 1456.0 469.0C1456.2 466.6 1457.4 458.3 1457.6 458.0C1457.8 457.8 1458.9 464.6 1459.0 465.0C1459.2 465.4 1460.3 463.0 1460.4 464.0C1460.6 465.1 1461.5 478.3 1461.6 481.0C1461.8 483.8 1462.3 502.0 1462.4 505.1C1462.6 508.1 1463.5 526.3 1463.6 527.1C1463.8 527.9 1465.0 518.8 1465.2 517.1C1465.5 515.3 1466.8 503.2 1467.0 501.1C1467.3 498.9 1468.8 486.2 1469.0 485.0C1469.3 483.9 1470.2 482.7 1470.4 484.0C1470.6 485.4 1471.8 502.3 1472.0 505.1C1472.3 507.8 1473.4 522.7 1473.6 525.1C1473.8 527.5 1474.8 539.2 1475.0 541.1C1475.3 542.9 1476.8 553.1 1477.0 553.1C1477.3 553.1 1478.2 542.4 1478.5 541.1C1478.7 539.7 1479.8 533.5 1480.0 533.1C1480.3 532.6 1481.4 534.9 1481.7 534.1C1481.9 533.3 1483.4 523.0 1483.7 521.1C1483.9 519.1 1484.9 506.3 1485.0 505.1C1485.2 503.8 1486.2 501.4 1486.5 502.1C1486.7 502.7 1487.8 512.8 1488.0 515.0C1488.3 517.3 1489.5 533.1 1489.7 535.1C1489.9 537.1 1490.8 544.1 1491.0 545.1C1491.3 546.0 1492.8 548.1 1493.1 549.1C1493.3 550.0 1494.8 558.3 1495.1 559.1C1495.3 559.9 1496.9 562.0 1497.1 561.1C1497.3 560.1 1497.9 547.7 1498.1 545.1C1498.2 542.4 1498.9 524.4 1499.1 521.1C1499.2 517.7 1499.9 498.5 1500.1 495.0C1500.2 491.6 1501.5 471.8 1501.7 469.0C1501.9 466.2 1502.9 453.3 1503.1 453.0C1503.2 452.8 1503.9 462.9 1504.1 465.0C1504.2 467.2 1505.1 482.4 1505.3 485.0C1505.4 487.7 1506.3 503.2 1506.5 505.1C1506.6 506.9 1507.8 512.8 1508.1 513.0C1508.3 513.3 1509.5 509.7 1509.7 509.1C1509.9 508.4 1510.8 503.7 1511.1 503.1C1511.3 502.4 1512.8 499.7 1513.1 500.1C1513.3 500.4 1514.3 508.2 1514.5 509.1C1514.7 509.9 1515.9 512.9 1516.1 513.0C1516.3 513.2 1517.5 510.2 1517.7 511.1C1517.9 511.9 1518.9 523.6 1519.1 525.1C1519.3 526.5 1520.3 533.3 1520.5 533.1C1520.7 532.8 1521.9 522.4 1522.1 521.1C1522.3 519.7 1523.5 514.4 1523.7 513.0C1523.9 511.7 1524.9 502.5 1525.1 501.1C1525.3 499.6 1526.3 491.8 1526.5 492.0C1526.7 492.3 1527.5 502.8 1527.7 505.1C1527.9 507.3 1528.9 522.5 1529.1 525.1C1529.3 527.6 1530.3 541.1 1530.5 543.1C1530.7 545.1 1531.9 553.5 1532.1 555.1C1532.3 556.6 1533.5 565.9 1533.7 566.1C1533.9 566.2 1534.9 559.0 1535.1 557.1C1535.3 555.1 1536.3 539.9 1536.5 537.1C1536.7 534.3 1537.8 516.9 1538.1 515.0C1538.3 513.2 1539.8 510.0 1540.1 509.1C1540.3 508.1 1541.8 502.7 1542.1 501.1C1542.3 499.4 1543.5 487.4 1543.7 485.0C1543.9 482.6 1544.9 467.0 1545.1 465.0C1545.3 463.0 1546.3 455.0 1546.5 455.0C1546.7 455.0 1547.5 463.0 1547.7 465.0C1547.9 467.0 1548.9 482.1 1549.1 485.0C1549.3 488.0 1550.3 506.4 1550.5 509.1C1550.7 511.7 1551.5 523.4 1551.7 525.1C1551.9 526.7 1552.9 532.7 1553.1 534.1C1553.3 535.4 1554.3 542.7 1554.5 545.1C1554.7 547.4 1555.5 566.3 1555.7 569.1C1555.9 571.9 1556.9 586.7 1557.1 587.1C1557.3 587.5 1558.5 577.6 1558.7 575.1C1558.9 572.6 1559.9 553.1 1560.1 549.1C1560.3 545.1 1561.5 518.9 1561.7 515.0C1561.9 511.2 1562.9 492.8 1563.1 491.0C1563.3 489.3 1564.3 490.1 1564.5 489.0C1564.7 488.0 1565.9 477.0 1566.1 475.0C1566.3 473.0 1567.1 461.4 1567.3 459.0C1567.5 456.7 1568.3 442.5 1568.5 440.0C1568.7 437.5 1569.7 423.2 1569.9 421.0C1570.1 418.8 1571.0 408.7 1571.1 407.0C1571.2 405.3 1572.0 397.3 1572.1 396.0C1572.2 394.7 1573.0 387.4 1573.1 387.4C1573.2 387.3 1574.0 393.5 1574.1 395.0C1574.2 396.4 1574.8 407.0 1574.9 409.0C1575.0 411.0 1575.4 421.9 1575.5 425.0C1575.6 428.1 1576.0 451.0 1576.1 455.0C1576.2 459.0 1577.0 481.0 1577.1 485.0C1577.2 489.0 1578.0 511.0 1578.1 515.0C1578.2 519.1 1579.0 542.0 1579.1 545.1C1579.2 548.1 1579.9 561.1 1580.1 561.1C1580.3 561.1 1581.5 546.5 1581.7 545.1C1581.9 543.6 1582.9 539.3 1583.1 539.1C1583.3 538.8 1584.8 542.0 1585.1 541.1C1585.4 540.1 1586.9 527.5 1587.1 525.1C1587.3 522.7 1588.3 508.0 1588.5 505.1C1588.7 502.1 1589.5 484.0 1589.7 481.0C1589.9 478.1 1590.9 462.9 1591.1 461.0C1591.3 459.2 1591.9 453.4 1592.1 453.0C1592.3 452.6 1593.5 455.6 1593.7 455.0C1593.9 454.5 1594.9 445.9 1595.1 445.0C1595.3 444.1 1596.3 440.3 1596.5 441.0C1596.7 441.7 1597.5 453.0 1597.7 455.0C1597.9 457.0 1598.9 469.5 1599.1 471.0C1599.3 472.6 1600.9 477.5 1601.1 478.0C1601.4 478.6 1602.9 478.3 1603.1 479.0C1603.3 479.8 1604.3 487.3 1604.5 489.0C1604.7 490.8 1605.9 502.9 1606.1 505.1C1606.3 507.2 1607.5 520.5 1607.7 521.1C1607.9 521.6 1608.9 514.1 1609.1 513.0C1609.4 512.0 1610.9 506.0 1611.1 505.1C1611.4 504.1 1612.9 499.6 1613.1 499.0C1613.4 498.5 1614.3 496.4 1614.5 497.0C1614.7 497.7 1615.9 506.8 1616.1 509.1C1616.3 511.3 1617.5 528.3 1617.7 531.1C1617.9 533.9 1618.9 548.9 1619.1 551.1C1619.3 553.2 1620.3 562.9 1620.5 563.1C1620.7 563.2 1621.9 554.8 1622.1 553.1C1622.4 551.3 1623.9 538.9 1624.1 537.1C1624.4 535.2 1625.9 526.9 1626.1 525.1C1626.4 523.2 1627.9 510.6 1628.1 509.1C1628.4 507.5 1629.9 502.3 1630.1 502.1C1630.4 501.8 1631.5 505.1 1631.7 505.1C1631.9 505.0 1633.0 502.1 1633.1 501.1C1633.3 500.0 1634.3 491.2 1634.5 489.0C1634.7 486.9 1635.9 471.8 1636.1 469.0C1636.4 466.2 1637.9 448.7 1638.1 447.0C1638.4 445.3 1639.5 443.3 1639.7 443.0C1640.0 442.7 1641.5 441.5 1641.8 442.0C1642.0 442.5 1643.0 449.1 1643.2 451.0C1643.3 453.0 1644.3 469.2 1644.5 471.0C1644.8 472.9 1645.9 478.2 1646.2 479.0C1646.4 479.8 1647.9 482.8 1648.2 483.0C1648.4 483.3 1649.9 482.6 1650.2 483.0C1650.4 483.4 1651.9 488.4 1652.2 489.0C1652.4 489.7 1653.9 492.9 1654.2 493.0C1654.4 493.2 1655.9 490.2 1656.2 491.0C1656.4 491.8 1657.9 502.8 1658.2 505.1C1658.4 507.3 1659.0 522.4 1659.2 525.1C1659.3 527.7 1660.0 542.8 1660.2 545.1C1660.4 547.3 1661.9 558.0 1662.2 559.1C1662.4 560.1 1663.6 560.2 1663.8 561.1C1664.0 561.9 1665.0 572.5 1665.2 572.1C1665.3 571.7 1666.4 557.7 1666.6 555.1C1666.8 552.5 1667.9 536.4 1668.2 533.1C1668.4 529.7 1669.6 508.3 1669.8 505.1C1670.0 501.8 1671.0 487.4 1671.2 485.0C1671.3 482.6 1672.4 470.3 1672.6 469.0C1672.8 467.8 1673.9 465.0 1674.2 466.0C1674.4 467.1 1675.6 483.0 1675.8 485.0C1676.0 487.1 1677.0 495.4 1677.2 497.0C1677.4 498.6 1678.4 507.2 1678.6 509.1C1678.8 510.9 1680.0 522.9 1680.2 525.1C1680.4 527.2 1681.6 539.6 1681.8 541.1C1682.0 542.5 1683.0 548.1 1683.2 547.1C1683.4 546.0 1684.4 528.5 1684.6 525.1C1684.8 521.6 1686.0 499.0 1686.2 495.0C1686.4 491.0 1687.6 467.7 1687.8 465.0C1688.0 462.4 1689.0 455.0 1689.2 455.0C1689.4 455.0 1690.4 463.0 1690.6 465.0C1690.8 467.0 1692.0 482.4 1692.2 485.0C1692.4 487.7 1693.5 502.4 1693.8 505.1C1694.0 507.7 1695.5 522.8 1695.8 525.1C1696.0 527.3 1697.6 538.0 1697.8 539.1C1698.0 540.1 1699.0 541.7 1699.2 541.1C1699.4 540.4 1700.6 530.8 1700.8 529.1C1701.0 527.3 1702.0 516.5 1702.2 515.0C1702.4 513.6 1703.9 506.6 1704.2 507.1C1704.4 507.5 1705.6 519.1 1705.8 521.1C1706.0 523.1 1707.0 534.9 1707.2 537.1C1707.4 539.2 1708.4 551.2 1708.6 553.1C1708.8 554.9 1710.0 564.2 1710.2 565.1C1710.4 565.9 1711.6 566.7 1711.8 566.1C1712.0 565.4 1713.0 557.0 1713.2 555.1C1713.4 553.1 1714.4 539.1 1714.6 537.1C1714.8 535.1 1716.0 526.0 1716.2 525.1C1716.4 524.1 1718.0 524.4 1718.2 523.1C1718.4 521.7 1719.6 507.6 1719.8 505.1C1720.0 502.5 1721.0 488.0 1721.2 485.0C1721.4 482.1 1722.4 464.0 1722.6 461.0C1722.8 458.0 1723.6 442.7 1723.8 440.0C1724.0 437.3 1724.8 421.6 1725.0 420.0C1725.2 418.4 1726.0 415.1 1726.2 415.4C1726.4 415.7 1727.6 422.2 1727.8 424.0C1728.0 425.8 1729.0 441.5 1729.2 443.0C1729.4 444.5 1731.0 445.5 1731.2 447.0C1731.4 448.5 1732.1 462.5 1732.2 465.0C1732.3 467.6 1733.0 482.4 1733.2 485.0C1733.4 487.7 1734.4 503.2 1734.6 505.1C1734.8 506.9 1736.0 513.0 1736.2 513.0C1736.4 513.0 1738.0 506.3 1738.2 505.1C1738.4 503.8 1739.6 495.7 1739.8 495.0C1740.0 494.4 1741.0 495.2 1741.2 495.0C1741.4 494.9 1742.4 494.0 1742.6 493.0C1742.8 492.1 1743.6 482.7 1743.8 481.0C1744.0 479.4 1745.0 467.8 1745.2 468.0C1745.4 468.3 1746.4 482.3 1746.6 485.0C1746.8 487.8 1747.7 505.7 1747.8 509.1C1747.9 512.4 1748.5 532.0 1748.6 535.1C1748.7 538.1 1749.6 553.1 1749.8 555.1C1750.0 557.1 1751.0 565.2 1751.2 565.1C1751.4 564.9 1753.0 553.1 1753.2 553.1C1753.4 553.1 1754.4 563.8 1754.6 565.1C1754.8 566.3 1755.6 572.4 1755.8 572.1C1756.0 571.8 1757.0 562.9 1757.2 561.1C1757.4 559.3 1758.4 546.0 1758.6 545.1C1758.8 544.1 1760.0 546.5 1760.2 547.1C1760.4 547.6 1761.6 553.2 1761.8 553.1C1762.0 552.9 1763.0 546.9 1763.2 545.1C1763.4 543.2 1764.4 527.7 1764.6 525.1C1764.8 522.4 1766.0 507.6 1766.2 505.1C1766.4 502.5 1767.6 488.4 1767.8 487.0C1768.0 485.7 1769.1 483.8 1769.2 485.0C1769.4 486.2 1770.0 502.4 1770.2 505.1C1770.3 507.7 1771.4 524.4 1771.6 525.1C1771.8 525.7 1773.0 517.1 1773.2 515.0C1773.4 513.0 1774.6 497.7 1774.8 495.0C1775.0 492.4 1776.0 477.7 1776.2 475.0C1776.4 472.4 1777.4 457.1 1777.6 455.0C1777.8 453.0 1779.0 444.4 1779.2 444.4C1779.4 444.4 1780.6 453.6 1780.8 455.0C1781.0 456.4 1782.0 464.1 1782.2 465.0C1782.4 466.0 1783.4 467.7 1783.6 469.0C1783.8 470.4 1785.0 483.0 1785.2 485.0C1785.4 487.0 1786.6 497.9 1786.8 499.0C1787.0 500.2 1788.2 503.0 1788.4 502.1C1788.6 501.1 1789.4 487.8 1789.6 485.0C1789.8 482.3 1790.6 464.7 1790.8 461.0C1791.0 457.4 1792.0 434.1 1792.2 430.0C1792.4 425.9 1793.1 404.0 1793.2 400.0C1793.3 396.0 1794.1 373.6 1794.2 370.0C1794.3 366.4 1795.1 347.8 1795.2 345.9C1795.3 344.1 1795.5 342.2 1795.6 342.4C1795.7 342.5 1796.3 346.2 1796.4 347.9C1796.5 349.7 1797.1 365.8 1797.2 369.0C1797.3 372.1 1797.9 392.0 1798.0 395.0C1798.1 397.9 1798.7 410.6 1798.8 413.0C1798.9 415.4 1799.7 428.6 1799.8 431.0C1799.9 433.4 1800.7 446.1 1800.8 449.0C1800.9 451.9 1801.7 471.3 1801.8 475.0C1801.9 478.8 1802.6 502.2 1802.8 505.1C1803.0 507.9 1804.0 516.0 1804.2 517.1C1804.4 518.1 1805.4 520.5 1805.6 521.1C1805.8 521.6 1807.0 524.5 1807.2 525.1C1807.4 525.6 1808.6 529.1 1808.8 529.1C1809.0 529.1 1810.0 525.5 1810.2 525.1C1810.4 524.7 1811.1 522.4 1811.2 523.1C1811.3 523.7 1812.0 532.9 1812.2 535.1C1812.4 537.2 1813.4 552.9 1813.6 555.1C1813.8 557.2 1815.0 566.7 1815.2 567.1C1815.4 567.5 1816.6 562.5 1816.8 561.1C1817.0 559.6 1818.0 547.5 1818.2 545.1C1818.4 542.7 1819.1 527.2 1819.2 525.1C1819.3 522.9 1820.0 514.7 1820.2 513.0C1820.4 511.4 1821.5 501.9 1821.6 501.1" stroke="#0000ff" stroke-width="4.4"/>
<line x1="1433.5" y1="517.3" x2="1820.9" y2="517.3" stroke="#008000" stroke-width="6.1" stroke-dasharray="23.5 11.5"/>
</g>
<rect x="1046.1" y="35.7" width="774.8" height="779.2" fill="none" stroke="#000" stroke-width="1.9"/>
<line x1="1046.1" y1="814.9" x2="1046.1" y2="822.6999999999999" stroke="#000" stroke-width="1.9"/>
<text x="1046.1" y="847.8" text-anchor="middle" font-size="21.9" font-weight="bold">0.00</text>
<line x1="1142.9" y1="814.9" x2="1142.9" y2="822.6999999999999" stroke="#000" stroke-width="1.9"/>
<text x="1142.9" y="847.8" text-anchor="middle" font-size="21.9" font-weight="bold">0.25</text>
<line x1="1239.8" y1="814.9" x2="1239.8" y2="822.6999999999999" stroke="#000" stroke-width="1.9"/>
<text x="1239.8" y="847.8" text-anchor="middle" font-size="21.9" font-weight="bold">0.50</text>
<line x1="1336.7" y1="814.9" x2="1336.7" y2="822.6999999999999" stroke="#000" stroke-width="1.9"/>
<text x="1336.7" y="847.8" text-anchor="middle" font-size="21.9" font-weight="bold">0.75</text>
<line x1="1433.5" y1="814.9" x2="1433.5" y2="822.6999999999999" stroke="#000" stroke-width="1.9"/>
<text x="1433.5" y="847.8" text-anchor="middle" font-size="21.9" font-weight="bold">1.00</text>
<line x1="1530.3" y1="814.9" x2="1530.3" y2="822.6999999999999" stroke="#000" stroke-width="1.9"/>
<text x="1530.3" y="847.8" text-anchor="middle" font-size="21.9" font-weight="bold">1.25</text>
<line x1="1627.2" y1="814.9" x2="1627.2" y2="822.6999999999999" stroke="#000" stroke-width="1.9"/>
<text x="1627.2" y="847.8" text-anchor="middle" font-size="21.9" font-weight="bold">1.50</text>
<line x1="1724.1" y1="814.9" x2="1724.1" y2="822.6999999999999" stroke="#000" stroke-width="1.9"/>
<text x="1724.1" y="847.8" text-anchor="middle" font-size="21.9" font-weight="bold">1.75</text>
<line x1="1820.9" y1="814.9" x2="1820.9" y2="822.6999999999999" stroke="#000" stroke-width="1.9"/>
<text x="1820.9" y="847.8" text-anchor="middle" font-size="21.9" font-weight="bold">2.00</text>
<line x1="1038.3" y1="814.9" x2="1046.1" y2="814.9" stroke="#000" stroke-width="1.9"/>
<text x="1030.8" y="822.9" text-anchor="end" font-size="21.9" font-weight="bold">0.00</text>
<line x1="1038.3" y1="659.1" x2="1046.1" y2="659.1" stroke="#000" stroke-width="1.9"/>
<text x="1030.8" y="667.1" text-anchor="end" font-size="21.9" font-weight="bold">0.02</text>
<line x1="1038.3" y1="503.2" x2="1046.1" y2="503.2" stroke="#000" stroke-width="1.9"/>
<text x="1030.8" y="511.2" text-anchor="end" font-size="21.9" font-weight="bold">0.04</text>
<line x1="1038.3" y1="347.4" x2="1046.1" y2="347.4" stroke="#000" stroke-width="1.9"/>
<text x="1030.8" y="355.4" text-anchor="end" font-size="21.9" font-weight="bold">0.06</text>
<line x1="1038.3" y1="191.5" x2="1046.1" y2="191.5" stroke="#000" stroke-width="1.9"/>
<text x="1030.8" y="199.5" text-anchor="end" font-size="21.9" font-weight="bold">0.08</text>
<line x1="1038.3" y1="35.7" x2="1046.1" y2="35.7" stroke="#000" stroke-width="1.9"/>
<text x="1030.8" y="43.7" text-anchor="end" font-size="21.9" font-weight="bold">0.10</text>
<text x="1820.9" y="875.9" text-anchor="end" font-size="21.7">1e5</text>
<text x="1433.2" y="22.1" text-anchor="middle" font-size="26.3">(b)</text>
<text x="1395.0" y="884.9" font-size="26.3"><tspan font-style="italic">t</tspan>[&#937;<tspan font-size="18.4" dy="-10.4" dx="0.8">&#8722;1</tspan><tspan font-size="18.4" dy="17.9" dx="-25.8" font-style="italic">ci</tspan><tspan dy="-7.5" dx="11.6">]</tspan></text>
<text transform="translate(960.9 552.4) rotate(-90)" font-size="28.3"><tspan x="2.50" y="0" font-style="italic">Q</tspan><tspan x="24.80" y="0">/</tspan><tspan x="34.50" y="0">(</tspan><tspan x="51.60" y="0">&lt;</tspan><tspan x="80.70" y="0" font-style="italic">n</tspan><tspan x="104.70" y="0">&gt;</tspan><tspan x="134.15" y="0" font-style="italic">c</tspan><tspan x="151.30" y="5.6" font-size="19.8" font-style="italic">s</tspan><tspan x="161.85" y="0" font-style="italic">T</tspan><tspan x="180.50" y="5.6" font-size="19.8" font-style="italic">e</tspan><tspan x="193.30" y="0">(</tspan><tspan x="203.30" y="0" font-style="italic">s</tspan><tspan x="218.05" y="5.6" font-size="19.8">0</tspan><tspan x="231.60" y="0">))</tspan></text>
<rect x="1139.92" y="49.70" width="675.0300000000001" height="125.8" rx="2.5" ry="2.5" fill="#b6b6b0" stroke="#7c7c7a" stroke-width="2.2"/>
<rect x="1135.5" y="45.4" width="675.0300000000001" height="125.8" rx="2.5" ry="2.5" fill="#fffff0" stroke="#cdcdcd" stroke-width="1.9"/>
<line x1="1141.2" y1="61.5" x2="1185.8" y2="61.5" stroke="#ff0000" stroke-width="4.7"/>
<line x1="1143.5" y1="91.6" x2="1183.5" y2="91.6" stroke="#bf00bf" stroke-width="6.1" stroke-dasharray="23.5 11.5"/>
<line x1="1141.6" y1="121.8" x2="1185.4" y2="121.8" stroke="#0000ff" stroke-width="3.8"/>
<line x1="1143.5" y1="152.0" x2="1183.5" y2="152.0" stroke="#008000" stroke-width="6.1" stroke-dasharray="23.5 11.5"/>
<text font-size="19.7"><tspan x="1199.25" y="68.80" font-style="italic">R</tspan><tspan x="1212.75" y="68.80">/</tspan><tspan x="1219.25" y="68.80" font-style="italic">L</tspan><tspan x="1230.55" y="72.10" font-size="13.8" font-style="italic">T</tspan><tspan x="1242.65" y="68.80">=</tspan><tspan x="1263.95" y="68.80" textLength="54.6" lengthAdjust="spacingAndGlyphs">26.79</tspan><tspan x="1328.45" y="68.80">&#10233;</tspan><tspan x="1366.90" y="68.80" font-style="italic">k</tspan><tspan x="1378.15" y="72.10" font-size="13.8" font-style="italic">&#952;</tspan><tspan x="1387.85" y="68.80" font-style="italic">&#961;</tspan><tspan x="1399.55" y="72.10" font-size="13.8" font-style="italic">s</tspan><tspan x="1410.65" y="68.80">=</tspan><tspan x="1432.10" y="68.80">0.0</tspan><tspan x="1466.95" y="68.80">&#8722;</tspan><tspan x="1487.95" y="68.80">1.4</tspan></text>
<text font-size="19.7"><tspan x="1199.80" y="98.8">time</tspan><tspan x="1250.00" y="98.8">averaged</tspan><tspan x="1349.40" y="98.8">heat</tspan><tspan x="1400.80" y="98.8">flux</tspan><tspan x="1445.00" y="98.8">for</tspan><tspan x="1477.40" y="98.80" font-style="italic">R</tspan><tspan x="1490.90" y="98.80">/</tspan><tspan x="1497.40" y="98.80" font-style="italic">L</tspan><tspan x="1508.70" y="102.10" font-size="13.8" font-style="italic">T</tspan><tspan x="1520.80" y="98.80">=</tspan><tspan x="1542.10" y="98.80" textLength="54.6" lengthAdjust="spacingAndGlyphs">26.79</tspan><tspan x="1612.80" y="98.80">&#10233;</tspan><tspan x="1651.25" y="98.80" font-style="italic">k</tspan><tspan x="1662.50" y="102.10" font-size="13.8" font-style="italic">&#952;</tspan><tspan x="1672.20" y="98.80" font-style="italic">&#961;</tspan><tspan x="1683.90" y="102.10" font-size="13.8" font-style="italic">s</tspan><tspan x="1695.00" y="98.80">=</tspan><tspan x="1716.45" y="98.80">0.0</tspan><tspan x="1751.30" y="98.80">&#8722;</tspan><tspan x="1772.30" y="98.80">1.4</tspan></text>
<text font-size="19.7"><tspan x="1199.25" y="128.80" font-style="italic">R</tspan><tspan x="1212.75" y="128.80">/</tspan><tspan x="1219.25" y="128.80" font-style="italic">L</tspan><tspan x="1230.55" y="132.10" font-size="13.8" font-style="italic">T</tspan><tspan x="1242.65" y="128.80">=</tspan><tspan x="1263.95" y="128.80" textLength="54.6" lengthAdjust="spacingAndGlyphs">26.79</tspan><tspan x="1328.45" y="128.80">&#10233;</tspan><tspan x="1366.90" y="128.80" font-style="italic">k</tspan><tspan x="1378.15" y="132.10" font-size="13.8" font-style="italic">&#952;</tspan><tspan x="1387.85" y="128.80" font-style="italic">&#961;</tspan><tspan x="1399.55" y="132.10" font-size="13.8" font-style="italic">s</tspan><tspan x="1410.65" y="128.80">=</tspan><tspan x="1432.10" y="128.80">0.0</tspan><tspan x="1466.95" y="128.80">&#8722;</tspan><tspan x="1487.95" y="128.80">0.8</tspan></text>
<text font-size="19.7"><tspan x="1199.80" y="158.8">time</tspan><tspan x="1250.00" y="158.8">averaged</tspan><tspan x="1349.40" y="158.8">heat</tspan><tspan x="1400.80" y="158.8">flux</tspan><tspan x="1445.00" y="158.8">for</tspan><tspan x="1477.40" y="158.80" font-style="italic">R</tspan><tspan x="1490.90" y="158.80">/</tspan><tspan x="1497.40" y="158.80" font-style="italic">L</tspan><tspan x="1508.70" y="162.10" font-size="13.8" font-style="italic">T</tspan><tspan x="1520.80" y="158.80">=</tspan><tspan x="1542.10" y="158.80" textLength="54.6" lengthAdjust="spacingAndGlyphs">26.79</tspan><tspan x="1612.80" y="158.80">&#10233;</tspan><tspan x="1651.25" y="158.80" font-style="italic">k</tspan><tspan x="1662.50" y="162.10" font-size="13.8" font-style="italic">&#952;</tspan><tspan x="1672.20" y="158.80" font-style="italic">&#961;</tspan><tspan x="1683.90" y="162.10" font-size="13.8" font-style="italic">s</tspan><tspan x="1695.00" y="158.80">=</tspan><tspan x="1716.45" y="158.80">0.0</tspan><tspan x="1751.30" y="158.80">&#8722;</tspan><tspan x="1772.30" y="158.80">0.8</tspan></text>
</g>
</svg>
</body>
</html>
